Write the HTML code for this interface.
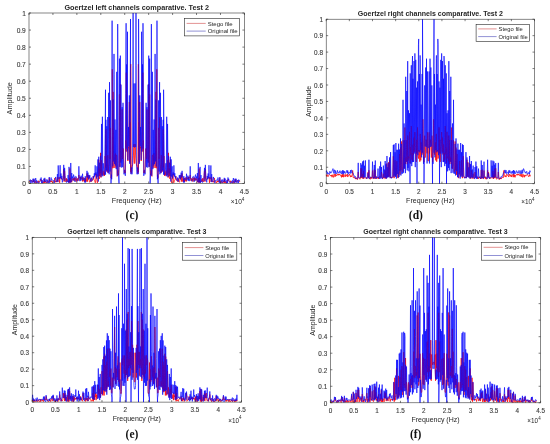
<!DOCTYPE html>
<html><head><meta charset="utf-8"><style>html,body{margin:0;padding:0;background:#fff;overflow:hidden}svg{display:block}</style></head><body>
<svg width="550" height="444" viewBox="0 0 550 444" font-family="Liberation Sans, Arial, sans-serif">
<defs><filter id="bl" x="-5%" y="-5%" width="110%" height="110%"><feGaussianBlur stdDeviation="0.45"/></filter></defs>
<g filter="url(#bl)">
<polyline fill="none" stroke-linejoin="round" stroke="#ff0000" stroke-width="0.7" stroke-opacity="1.0" points="29,180.98 29.53,181.72 29.84,181.49 30.43,180.99 30.77,180.75 31.24,180.7 31.76,180.7 32.13,180.43 32.61,182.2 32.96,181.97 33.55,180.74 33.96,179.4 34.37,182.52 34.9,183.21 35.26,182.45 35.74,181.05 36.13,183.21 36.63,182.8 37.05,182.39 37.51,181.76 38.05,182.24 38.41,180.76 38.9,182.68 39.44,181.68 39.88,181.06 40.29,180.63 40.71,180.79 41.11,179.41 41.54,181.02 42.13,181.35 42.5,182.07 42.88,183.2 43.42,182.79 43.9,181.14 44.32,183.03 44.83,179.15 45.12,182.55 45.66,181.15 46.09,182.25 46.47,183.02 47.03,182.22 47.51,182.34 47.92,181.23 48.31,182.36 48.86,181.3 49.25,178.21 49.7,180.75 50.2,181.19 50.54,182.11 51.11,180.65 51.53,181.93 52,180.8 52.34,182.88 52.9,182.07 53.24,181.75 53.67,182.03 54.26,181.57 54.72,178.08 55.17,182.1 55.54,181.32 55.96,182.33 56.36,181.55 56.93,181.2 57.39,177.14 57.86,181.8 58.21,178.68 58.65,177.87 59.18,177.15 59.65,182.77 60.13,177.01 60.44,177.49 60.95,177.69 61.47,178.79 61.84,179.02 62.32,178.76 62.66,179.62 63.23,178.36 63.73,169.06 64.16,181.68 64.62,170.84 65.03,177.65 65.4,178.56 65.95,181.97 66.3,178.16 66.86,181.24 67.17,179.26 67.76,180.91 68.09,181.75 68.58,181.98 69.02,181.12 69.53,182.58 69.89,168.46 70.38,182.49 70.76,178.09 71.26,179.96 71.74,182.26 72.13,179.92 72.67,178.53 73.08,180.08 73.59,178.42 74.03,180.45 74.44,177.87 74.97,180.75 75.37,179.56 75.86,177.52 76.22,181.64 76.71,178.73 77.1,180.16 77.69,178.36 78,180.89 78.46,179.81 78.87,175.11 79.36,177.9 79.9,177.61 80.34,179.28 80.68,177.22 81.18,178.69 81.64,178.11 82.13,177.73 82.54,181.41 83.02,177.19 83.51,180.71 83.94,180.08 84.33,181.95 84.79,178.16 85.23,181.03 85.63,178.94 86.1,181.73 86.56,180.94 87.02,173.47 87.47,181.62 87.96,174.99 88.48,178.66 88.9,176.41 89.35,181.88 89.8,182.27 90.22,181.41 90.73,178.42 91.13,180.26 91.55,181.6 91.92,180.89 92.45,179.74 92.85,180.09 93.28,176.27 93.8,179.17 94.3,180.34 94.66,180.57 95.2,182.85 95.6,182.42 95.99,173.77 96.58,177.2 96.93,179.88 97.36,182.85 97.91,180.96 98.23,175.76 98.79,159.73 99.14,178.97 99.63,168.55 100.05,175.86 100.61,152.84 100.98,177.51 101.54,160.18 101.92,174.47 102.38,174.69 102.8,173.18 103.22,170.68 103.68,175.43 104.23,172.23 104.55,175.85 105.14,156.05 105.55,167.44 105.92,129.36 106.43,169.9 106.83,171.64 107.28,167.58 107.75,155.12 108.11,172.85 108.65,166.86 109.18,162.45 109.51,117.48 110.04,158.86 110.44,127.88 110.85,177.78 111.42,178.53 111.71,176.36 112.21,159.11 112.3,69.26 112.79,168.21 113.11,91.87 113.66,159.24 114.07,167.98 114.56,159.81 114.97,155.93 115.38,153.5 115.9,167.73 116.21,154.94 116.74,155.44 117.18,176.34 117.65,175.85 118.03,170.44 118.5,175.13 119.01,163.82 119.43,94.38 119.95,166.65 120.37,84.22 120.87,161.43 121.29,157.16 121.72,155.6 122.11,109.49 122.65,158.84 123.01,148.36 123.42,149.2 124.03,168.69 124.41,173.12 124.9,170.33 125.31,173.06 125.77,140.36 126.12,151.56 126.3,72.67 126.59,121.84 127.13,147.09 127.56,159.72 127.94,160.97 128.53,146.83 128.84,148.31 129.35,101.98 129.74,162.26 130.29,122.31 130.66,171.8 130.7,64.15 131.08,173.41 131.52,172.56 131.99,165.36 132.44,165.61 132.96,162.62 133.39,155.95 133.93,144.21 134.38,163.44 134.71,163.44 135.16,144.21 135.7,155.95 136.14,162.62 136.65,165.61 137.1,165.36 137.57,172.56 138.01,173.41 138.39,64.15 138.43,171.8 138.8,122.31 139.36,162.26 139.74,101.98 140.25,148.31 140.56,146.83 141.15,160.97 141.53,159.72 141.96,147.09 142.5,121.84 142.79,72.67 142.98,151.56 143.32,140.36 143.79,173.06 144.19,170.33 144.68,173.12 145.06,168.69 145.67,149.2 146.09,148.36 146.44,158.84 146.98,109.49 147.37,155.6 147.8,157.16 148.23,161.43 148.72,84.22 149.14,166.65 149.66,94.38 150.08,163.82 150.59,175.13 151.06,170.44 151.45,175.85 151.92,176.34 152.35,155.44 152.88,154.94 153.2,167.73 153.72,153.5 154.12,155.93 154.54,159.81 155.02,167.98 155.43,159.24 155.98,91.87 156.3,168.21 156.79,69.26 156.88,159.11 157.38,176.36 157.67,178.53 158.24,177.78 158.65,127.88 159.05,158.86 159.58,117.48 159.91,162.45 160.44,166.86 160.98,172.85 161.34,155.12 161.81,167.58 162.26,171.64 162.67,169.9 163.17,129.36 163.55,167.44 163.95,156.05 164.55,175.85 164.86,172.23 165.41,175.43 165.88,170.68 166.29,173.18 166.71,174.69 167.17,174.47 167.56,160.18 168.11,177.51 168.48,152.84 169.04,175.86 169.46,168.55 169.95,178.97 170.3,159.73 170.86,175.76 171.18,180.96 171.73,182.85 172.16,179.88 172.51,177.2 173.11,173.77 173.49,182.42 173.89,182.85 174.43,180.57 174.79,180.34 175.29,179.17 175.81,176.27 176.24,180.09 176.64,179.74 177.17,180.89 177.54,181.6 177.96,180.26 178.37,178.42 178.87,181.41 179.3,182.27 179.74,181.88 180.19,176.41 180.61,178.66 181.13,174.99 181.63,181.62 182.08,173.47 182.53,180.94 183,181.73 183.46,178.94 183.87,181.03 184.3,178.16 184.77,181.95 185.15,180.08 185.58,180.71 186.08,177.19 186.55,181.41 186.96,177.73 187.46,178.11 187.91,178.69 188.41,177.22 188.76,179.28 189.19,177.61 189.74,177.9 190.22,175.11 190.64,179.81 191.09,180.89 191.4,178.36 192,180.16 192.38,178.73 192.87,181.64 193.24,177.52 193.72,179.56 194.13,180.75 194.65,177.87 195.06,180.45 195.5,178.42 196.01,180.08 196.42,178.53 196.96,179.92 197.36,182.26 197.83,179.96 198.33,178.09 198.71,182.49 199.2,168.46 199.56,182.58 200.07,181.12 200.51,181.98 201,181.75 201.33,180.91 201.92,179.26 202.23,181.24 202.79,178.16 203.14,181.97 203.69,178.56 204.06,177.65 204.47,170.84 204.93,181.68 205.37,169.06 205.86,178.36 206.43,179.62 206.78,178.76 207.26,179.02 207.62,178.79 208.15,177.69 208.65,177.49 208.96,177.01 209.44,182.77 209.92,177.15 210.44,177.87 210.88,178.68 211.23,181.8 211.7,177.14 212.17,181.2 212.73,181.55 213.13,182.33 213.55,181.32 213.92,182.1 214.38,178.08 214.83,181.57 215.42,182.03 215.85,181.75 216.19,182.07 216.75,182.88 217.09,180.8 217.56,181.93 217.98,180.65 218.56,182.11 218.9,181.19 219.39,180.75 219.84,178.21 220.23,181.3 220.79,182.36 221.18,181.23 221.58,182.34 222.07,182.22 222.62,183.02 223,182.25 223.44,181.15 223.97,182.55 224.27,179.15 224.77,183.03 225.19,181.14 225.67,182.79 226.21,183.2 226.59,182.07 226.96,181.35 227.55,181.02 227.98,179.41 228.38,180.79 228.8,180.63 229.21,181.06 229.66,181.68 230.19,182.68 230.68,180.76 231.05,182.24 231.58,181.76 232.05,182.39 232.46,182.8 232.96,183.21 233.35,181.05 233.83,182.45 234.19,183.21 234.72,182.52 235.14,179.4 235.55,180.74 236.13,181.97 236.48,182.2 236.96,180.43 237.33,180.7 237.86,180.7 238.33,180.75 238.66,180.99 239.26,181.49 239.56,181.72 240.09,180.98"/>
<polyline fill="none" stroke-linejoin="round" stroke="#0000ff" stroke-width="0.7" stroke-opacity="0.95" points="29,180.18 29.53,180.65 29.84,179.99 30.43,179.64 30.77,183.11 31.24,180.15 31.76,181.83 32.13,182.84 32.61,180.92 32.96,178.74 33.55,182.19 33.96,178.61 34.37,182.82 34.9,180.39 35.26,180.73 35.74,178.06 36.13,183.06 36.63,180.29 37.05,180.6 37.51,182.6 38.05,181.73 38.41,183.12 38.9,182.88 39.44,182.37 39.88,181.62 40.29,178.86 40.71,179.85 41.11,177.53 41.54,183.11 42.13,180.07 42.5,182.96 42.88,182.84 43.42,179.55 43.9,178.58 44.32,181.91 44.83,177.83 45.12,181.73 45.66,181.91 46.09,179.88 46.47,179.56 47.03,182.88 47.51,179.69 47.92,180.84 48.31,182.75 48.86,182.76 49.25,177.01 49.7,182.84 50.2,180.8 50.54,180.86 51.11,177.49 51.53,180.14 52,180.22 52.34,179.73 52.9,180.66 53.24,180.57 53.67,180.42 54.26,183.1 54.72,180.71 55.17,179.54 55.54,176.95 55.96,179.61 56.36,181.87 56.93,180.33 57.39,174.1 57.86,182.13 58.21,165.43 58.65,178.98 59.18,178.47 59.65,178.93 60.13,165.21 60.44,178.32 60.95,173.46 61.47,179.25 61.84,175.92 62.32,182.42 62.66,179.82 63.23,178.44 63.73,164.89 64.16,180.89 64.62,167.85 65.03,175.39 65.4,177.74 65.95,178.25 66.3,182.35 66.86,182.45 67.17,181.19 67.76,181.77 68.09,175.1 68.58,182.84 69.02,166.89 69.53,182.4 69.89,177.81 70.38,182.49 70.76,162.97 71.26,182.23 71.74,173.04 72.13,178.32 72.67,176.51 73.08,180.75 73.59,174.59 74.03,176.36 74.44,176.98 74.97,181.86 75.37,176.5 75.86,176.31 76.22,176.54 76.71,177.92 77.1,181.31 77.69,180.94 78,178.97 78.46,178.74 78.87,166.3 79.36,178.59 79.9,181.18 80.34,176.72 80.68,180.67 81.18,175.66 81.64,178.8 82.13,180.47 82.54,173.76 83.02,179.03 83.51,179.89 83.94,177.95 84.33,178.93 84.79,182.57 85.23,176.29 85.63,182.45 86.1,176.33 86.56,176.45 87.02,170.83 87.47,177.62 87.96,172.59 88.48,179.54 88.9,174.9 89.35,178.48 89.8,175.11 90.22,178.59 90.73,181.74 91.13,180.93 91.55,177.6 91.92,180.75 92.45,179.26 92.85,178.45 93.28,176.21 93.8,178.31 94.3,173.24 94.66,176.63 95.2,165.33 95.6,175.21 95.99,172.41 96.58,178.49 96.93,166.3 97.36,176.66 97.91,159.38 98.23,181.55 98.79,156.74 99.14,176.05 99.63,162.65 100.05,173.3 100.61,155.82 100.98,177.08 101.54,123.95 101.92,175.43 102.38,116.74 102.8,176.28 103.22,163.25 103.68,169.98 104.23,171.94 104.55,174.9 105.14,133.29 105.5,89.72 105.55,174.65 105.92,119.77 106.43,170.42 106.83,126.2 107.28,171.68 107.75,117.02 108.11,173.16 108.65,92.79 109.18,174.29 109.5,91.43 109.51,82.14 110.04,171.56 110.44,100.37 110.85,175.62 111,183.5 111.42,174.58 111.71,179.28 112.1,20.67 112.21,76.02 112.79,166.43 113.11,99.49 113.66,161.5 114,53.92 114.07,74.18 114.56,163.93 114.97,119.44 115.38,165.46 115.9,129.84 116.21,169.12 116.74,71.84 117.18,175.72 117.65,175.25 117.7,24.08 118.03,172.78 118.5,173.81 119,183.5 119.01,160.48 119.43,58.62 119.95,166.95 120.37,55.64 120.87,162.74 121,84.61 121.29,167.6 121.72,159.08 122.11,107.16 122.65,167.21 123.01,102.79 123.42,158.11 124.03,174.33 124.41,170.06 124.9,170.44 125.31,175.82 125.77,93.47 126.1,23.23 126.12,148.66 126.59,64.36 127.13,151.46 127.5,31.75 127.56,148.51 127.94,159.97 128.53,126.93 128.84,146.35 129.35,95.38 129.74,163.81 130.29,68.32 130.5,18.97 130.66,173.23 131.08,174.18 131.52,167.46 131.99,174.25 132.44,169.66 132.96,65.37 133.1,13 133.39,147.04 133.93,83.44 134.38,147.39 134.71,147.39 135.16,83.44 135.7,147.04 135.99,13 136.14,65.37 136.65,169.66 137.1,174.25 137.57,167.46 138.01,174.18 138.43,173.23 138.59,18.97 138.8,68.32 139.36,163.81 139.74,95.38 140.25,146.35 140.56,126.93 141.15,159.97 141.53,148.51 141.59,31.75 141.96,151.46 142.5,64.36 142.98,148.66 142.99,23.23 143.32,93.47 143.79,175.82 144.19,170.44 144.68,170.06 145.06,174.33 145.67,158.11 146.09,102.79 146.44,167.21 146.98,107.16 147.37,159.08 147.8,167.6 148.09,84.61 148.23,162.74 148.72,55.64 149.14,166.95 149.66,58.62 150.08,160.48 150.09,183.5 150.59,173.81 151.06,172.78 151.39,24.08 151.45,175.25 151.92,175.72 152.35,71.84 152.88,169.12 153.2,129.84 153.72,165.46 154.12,119.44 154.54,163.93 155.02,74.18 155.09,53.92 155.43,161.5 155.98,99.49 156.3,166.43 156.88,76.02 156.99,20.67 157.38,179.28 157.67,174.58 158.09,183.5 158.24,175.62 158.65,100.37 159.05,171.56 159.58,82.14 159.59,91.43 159.91,174.29 160.44,92.79 160.98,173.16 161.34,117.02 161.81,171.68 162.26,126.2 162.67,170.42 163.17,119.77 163.55,174.65 163.59,89.72 163.95,133.29 164.55,174.9 164.86,171.94 165.41,169.98 165.88,163.25 166.29,176.28 166.71,116.74 167.17,175.43 167.56,123.95 168.11,177.08 168.48,155.82 169.04,173.3 169.46,162.65 169.95,176.05 170.3,156.74 170.86,181.55 171.18,159.38 171.73,176.66 172.16,166.3 172.51,178.49 173.11,172.41 173.49,175.21 173.89,165.33 174.43,176.63 174.79,173.24 175.29,178.31 175.81,176.21 176.24,178.45 176.64,179.26 177.17,180.75 177.54,177.6 177.96,180.93 178.37,181.74 178.87,178.59 179.3,175.11 179.74,178.48 180.19,174.9 180.61,179.54 181.13,172.59 181.63,177.62 182.08,170.83 182.53,176.45 183,176.33 183.46,182.45 183.87,176.29 184.3,182.57 184.77,178.93 185.15,177.95 185.58,179.89 186.08,179.03 186.55,173.76 186.96,180.47 187.46,178.8 187.91,175.66 188.41,180.67 188.76,176.72 189.19,181.18 189.74,178.59 190.22,166.3 190.64,178.74 191.09,178.97 191.4,180.94 192,181.31 192.38,177.92 192.87,176.54 193.24,176.31 193.72,176.5 194.13,181.86 194.65,176.98 195.06,176.36 195.5,174.59 196.01,180.75 196.42,176.51 196.96,178.32 197.36,173.04 197.83,182.23 198.33,162.97 198.71,182.49 199.2,177.81 199.56,182.4 200.07,166.89 200.51,182.84 201,175.1 201.33,181.77 201.92,181.19 202.23,182.45 202.79,182.35 203.14,178.25 203.69,177.74 204.06,175.39 204.47,167.85 204.93,180.89 205.37,164.89 205.86,178.44 206.43,179.82 206.78,182.42 207.26,175.92 207.62,179.25 208.15,173.46 208.65,178.32 208.96,165.21 209.44,178.93 209.92,178.47 210.44,178.98 210.88,165.43 211.23,182.13 211.7,174.1 212.17,180.33 212.73,181.87 213.13,179.61 213.55,176.95 213.92,179.54 214.38,180.71 214.83,183.1 215.42,180.42 215.85,180.57 216.19,180.66 216.75,179.73 217.09,180.22 217.56,180.14 217.98,177.49 218.56,180.86 218.9,180.8 219.39,182.84 219.84,177.01 220.23,182.76 220.79,182.75 221.18,180.84 221.58,179.69 222.07,182.88 222.62,179.56 223,179.88 223.44,181.91 223.97,181.73 224.27,177.83 224.77,181.91 225.19,178.58 225.67,179.55 226.21,182.84 226.59,182.96 226.96,180.07 227.55,183.11 227.98,177.53 228.38,179.85 228.8,178.86 229.21,181.62 229.66,182.37 230.19,182.88 230.68,183.12 231.05,181.73 231.58,182.6 232.05,180.6 232.46,180.29 232.96,183.06 233.35,178.06 233.83,180.73 234.19,180.39 234.72,182.82 235.14,178.61 235.55,182.19 236.13,178.74 236.48,180.92 236.96,182.84 237.33,181.83 237.86,180.15 238.33,183.11 238.66,179.64 239.26,179.99 239.56,180.65 240.09,180.18"/>
<polyline fill="none" stroke-linejoin="round" stroke="#ff0000" stroke-width="0.5" stroke-opacity="0.2" points="29,180.98 29.53,181.72 29.84,181.49 30.43,180.99 30.77,180.75 31.24,180.7 31.76,180.7 32.13,180.43 32.61,182.2 32.96,181.97 33.55,180.74 33.96,179.4 34.37,182.52 34.9,183.21 35.26,182.45 35.74,181.05 36.13,183.21 36.63,182.8 37.05,182.39 37.51,181.76 38.05,182.24 38.41,180.76 38.9,182.68 39.44,181.68 39.88,181.06 40.29,180.63 40.71,180.79 41.11,179.41 41.54,181.02 42.13,181.35 42.5,182.07 42.88,183.2 43.42,182.79 43.9,181.14 44.32,183.03 44.83,179.15 45.12,182.55 45.66,181.15 46.09,182.25 46.47,183.02 47.03,182.22 47.51,182.34 47.92,181.23 48.31,182.36 48.86,181.3 49.25,178.21 49.7,180.75 50.2,181.19 50.54,182.11 51.11,180.65 51.53,181.93 52,180.8 52.34,182.88 52.9,182.07 53.24,181.75 53.67,182.03 54.26,181.57 54.72,178.08 55.17,182.1 55.54,181.32 55.96,182.33 56.36,181.55 56.93,181.2 57.39,177.14 57.86,181.8 58.21,178.68 58.65,177.87 59.18,177.15 59.65,182.77 60.13,177.01 60.44,177.49 60.95,177.69 61.47,178.79 61.84,179.02 62.32,178.76 62.66,179.62 63.23,178.36 63.73,169.06 64.16,181.68 64.62,170.84 65.03,177.65 65.4,178.56 65.95,181.97 66.3,178.16 66.86,181.24 67.17,179.26 67.76,180.91 68.09,181.75 68.58,181.98 69.02,181.12 69.53,182.58 69.89,168.46 70.38,182.49 70.76,178.09 71.26,179.96 71.74,182.26 72.13,179.92 72.67,178.53 73.08,180.08 73.59,178.42 74.03,180.45 74.44,177.87 74.97,180.75 75.37,179.56 75.86,177.52 76.22,181.64 76.71,178.73 77.1,180.16 77.69,178.36 78,180.89 78.46,179.81 78.87,175.11 79.36,177.9 79.9,177.61 80.34,179.28 80.68,177.22 81.18,178.69 81.64,178.11 82.13,177.73 82.54,181.41 83.02,177.19 83.51,180.71 83.94,180.08 84.33,181.95 84.79,178.16 85.23,181.03 85.63,178.94 86.1,181.73 86.56,180.94 87.02,173.47 87.47,181.62 87.96,174.99 88.48,178.66 88.9,176.41 89.35,181.88 89.8,182.27 90.22,181.41 90.73,178.42 91.13,180.26 91.55,181.6 91.92,180.89 92.45,179.74 92.85,180.09 93.28,176.27 93.8,179.17 94.3,180.34 94.66,180.57 95.2,182.85 95.6,182.42 95.99,173.77 96.58,177.2 96.93,179.88 97.36,182.85 97.91,180.96 98.23,175.76 98.79,159.73 99.14,178.97 99.63,168.55 100.05,175.86 100.61,152.84 100.98,177.51 101.54,160.18 101.92,174.47 102.38,174.69 102.8,173.18 103.22,170.68 103.68,175.43 104.23,172.23 104.55,175.85 105.14,156.05 105.55,167.44 105.92,129.36 106.43,169.9 106.83,171.64 107.28,167.58 107.75,155.12 108.11,172.85 108.65,166.86 109.18,162.45 109.51,117.48 110.04,158.86 110.44,127.88 110.85,177.78 111.42,178.53 111.71,176.36 112.21,159.11 112.3,69.26 112.79,168.21 113.11,91.87 113.66,159.24 114.07,167.98 114.56,159.81 114.97,155.93 115.38,153.5 115.9,167.73 116.21,154.94 116.74,155.44 117.18,176.34 117.65,175.85 118.03,170.44 118.5,175.13 119.01,163.82 119.43,94.38 119.95,166.65 120.37,84.22 120.87,161.43 121.29,157.16 121.72,155.6 122.11,109.49 122.65,158.84 123.01,148.36 123.42,149.2 124.03,168.69 124.41,173.12 124.9,170.33 125.31,173.06 125.77,140.36 126.12,151.56 126.3,72.67 126.59,121.84 127.13,147.09 127.56,159.72 127.94,160.97 128.53,146.83 128.84,148.31 129.35,101.98 129.74,162.26 130.29,122.31 130.66,171.8 130.7,64.15 131.08,173.41 131.52,172.56 131.99,165.36 132.44,165.61 132.96,162.62 133.39,155.95 133.93,144.21 134.38,163.44 134.71,163.44 135.16,144.21 135.7,155.95 136.14,162.62 136.65,165.61 137.1,165.36 137.57,172.56 138.01,173.41 138.39,64.15 138.43,171.8 138.8,122.31 139.36,162.26 139.74,101.98 140.25,148.31 140.56,146.83 141.15,160.97 141.53,159.72 141.96,147.09 142.5,121.84 142.79,72.67 142.98,151.56 143.32,140.36 143.79,173.06 144.19,170.33 144.68,173.12 145.06,168.69 145.67,149.2 146.09,148.36 146.44,158.84 146.98,109.49 147.37,155.6 147.8,157.16 148.23,161.43 148.72,84.22 149.14,166.65 149.66,94.38 150.08,163.82 150.59,175.13 151.06,170.44 151.45,175.85 151.92,176.34 152.35,155.44 152.88,154.94 153.2,167.73 153.72,153.5 154.12,155.93 154.54,159.81 155.02,167.98 155.43,159.24 155.98,91.87 156.3,168.21 156.79,69.26 156.88,159.11 157.38,176.36 157.67,178.53 158.24,177.78 158.65,127.88 159.05,158.86 159.58,117.48 159.91,162.45 160.44,166.86 160.98,172.85 161.34,155.12 161.81,167.58 162.26,171.64 162.67,169.9 163.17,129.36 163.55,167.44 163.95,156.05 164.55,175.85 164.86,172.23 165.41,175.43 165.88,170.68 166.29,173.18 166.71,174.69 167.17,174.47 167.56,160.18 168.11,177.51 168.48,152.84 169.04,175.86 169.46,168.55 169.95,178.97 170.3,159.73 170.86,175.76 171.18,180.96 171.73,182.85 172.16,179.88 172.51,177.2 173.11,173.77 173.49,182.42 173.89,182.85 174.43,180.57 174.79,180.34 175.29,179.17 175.81,176.27 176.24,180.09 176.64,179.74 177.17,180.89 177.54,181.6 177.96,180.26 178.37,178.42 178.87,181.41 179.3,182.27 179.74,181.88 180.19,176.41 180.61,178.66 181.13,174.99 181.63,181.62 182.08,173.47 182.53,180.94 183,181.73 183.46,178.94 183.87,181.03 184.3,178.16 184.77,181.95 185.15,180.08 185.58,180.71 186.08,177.19 186.55,181.41 186.96,177.73 187.46,178.11 187.91,178.69 188.41,177.22 188.76,179.28 189.19,177.61 189.74,177.9 190.22,175.11 190.64,179.81 191.09,180.89 191.4,178.36 192,180.16 192.38,178.73 192.87,181.64 193.24,177.52 193.72,179.56 194.13,180.75 194.65,177.87 195.06,180.45 195.5,178.42 196.01,180.08 196.42,178.53 196.96,179.92 197.36,182.26 197.83,179.96 198.33,178.09 198.71,182.49 199.2,168.46 199.56,182.58 200.07,181.12 200.51,181.98 201,181.75 201.33,180.91 201.92,179.26 202.23,181.24 202.79,178.16 203.14,181.97 203.69,178.56 204.06,177.65 204.47,170.84 204.93,181.68 205.37,169.06 205.86,178.36 206.43,179.62 206.78,178.76 207.26,179.02 207.62,178.79 208.15,177.69 208.65,177.49 208.96,177.01 209.44,182.77 209.92,177.15 210.44,177.87 210.88,178.68 211.23,181.8 211.7,177.14 212.17,181.2 212.73,181.55 213.13,182.33 213.55,181.32 213.92,182.1 214.38,178.08 214.83,181.57 215.42,182.03 215.85,181.75 216.19,182.07 216.75,182.88 217.09,180.8 217.56,181.93 217.98,180.65 218.56,182.11 218.9,181.19 219.39,180.75 219.84,178.21 220.23,181.3 220.79,182.36 221.18,181.23 221.58,182.34 222.07,182.22 222.62,183.02 223,182.25 223.44,181.15 223.97,182.55 224.27,179.15 224.77,183.03 225.19,181.14 225.67,182.79 226.21,183.2 226.59,182.07 226.96,181.35 227.55,181.02 227.98,179.41 228.38,180.79 228.8,180.63 229.21,181.06 229.66,181.68 230.19,182.68 230.68,180.76 231.05,182.24 231.58,181.76 232.05,182.39 232.46,182.8 232.96,183.21 233.35,181.05 233.83,182.45 234.19,183.21 234.72,182.52 235.14,179.4 235.55,180.74 236.13,181.97 236.48,182.2 236.96,180.43 237.33,180.7 237.86,180.7 238.33,180.75 238.66,180.99 239.26,181.49 239.56,181.72 240.09,180.98"/>
</g>
<rect x="29" y="13" width="215.4" height="170.5" fill="none" stroke="#262626" stroke-width="0.55"/>
<path d="M29 183.5v-2.0 M29 13v2.0 M52.93 183.5v-2.0 M52.93 13v2.0 M76.87 183.5v-2.0 M76.87 13v2.0 M100.8 183.5v-2.0 M100.8 13v2.0 M124.73 183.5v-2.0 M124.73 13v2.0 M148.67 183.5v-2.0 M148.67 13v2.0 M172.6 183.5v-2.0 M172.6 13v2.0 M196.53 183.5v-2.0 M196.53 13v2.0 M220.47 183.5v-2.0 M220.47 13v2.0 M244.4 183.5v-2.0 M244.4 13v2.0 M29 183.5h2.0 M244.4 183.5h-2.0 M29 166.45h2.0 M244.4 166.45h-2.0 M29 149.4h2.0 M244.4 149.4h-2.0 M29 132.35h2.0 M244.4 132.35h-2.0 M29 115.3h2.0 M244.4 115.3h-2.0 M29 98.25h2.0 M244.4 98.25h-2.0 M29 81.2h2.0 M244.4 81.2h-2.0 M29 64.15h2.0 M244.4 64.15h-2.0 M29 47.1h2.0 M244.4 47.1h-2.0 M29 30.05h2.0 M244.4 30.05h-2.0 M29 13h2.0 M244.4 13h-2.0" stroke="#262626" stroke-width="0.6" fill="none"/>
<text x="29" y="193.55" font-size="6.6" text-anchor="middle" fill="#3c3c3c" stroke="#3c3c3c" stroke-width="0.12">0</text>
<text x="52.93" y="193.55" font-size="6.6" text-anchor="middle" fill="#3c3c3c" stroke="#3c3c3c" stroke-width="0.12">0.5</text>
<text x="76.87" y="193.55" font-size="6.6" text-anchor="middle" fill="#3c3c3c" stroke="#3c3c3c" stroke-width="0.12">1</text>
<text x="100.8" y="193.55" font-size="6.6" text-anchor="middle" fill="#3c3c3c" stroke="#3c3c3c" stroke-width="0.12">1.5</text>
<text x="124.73" y="193.55" font-size="6.6" text-anchor="middle" fill="#3c3c3c" stroke="#3c3c3c" stroke-width="0.12">2</text>
<text x="148.67" y="193.55" font-size="6.6" text-anchor="middle" fill="#3c3c3c" stroke="#3c3c3c" stroke-width="0.12">2.5</text>
<text x="172.6" y="193.55" font-size="6.6" text-anchor="middle" fill="#3c3c3c" stroke="#3c3c3c" stroke-width="0.12">3</text>
<text x="196.53" y="193.55" font-size="6.6" text-anchor="middle" fill="#3c3c3c" stroke="#3c3c3c" stroke-width="0.12">3.5</text>
<text x="220.47" y="193.55" font-size="6.6" text-anchor="middle" fill="#3c3c3c" stroke="#3c3c3c" stroke-width="0.12">4</text>
<text x="244.4" y="193.55" font-size="6.6" text-anchor="middle" fill="#3c3c3c" stroke="#3c3c3c" stroke-width="0.12">4.5</text>
<text x="25.8" y="186.38" font-size="6.6" text-anchor="end" fill="#3c3c3c" stroke="#3c3c3c" stroke-width="0.12">0</text>
<text x="25.8" y="169.33" font-size="6.6" text-anchor="end" fill="#3c3c3c" stroke="#3c3c3c" stroke-width="0.12">0.1</text>
<text x="25.8" y="152.28" font-size="6.6" text-anchor="end" fill="#3c3c3c" stroke="#3c3c3c" stroke-width="0.12">0.2</text>
<text x="25.8" y="135.23" font-size="6.6" text-anchor="end" fill="#3c3c3c" stroke="#3c3c3c" stroke-width="0.12">0.3</text>
<text x="25.8" y="118.18" font-size="6.6" text-anchor="end" fill="#3c3c3c" stroke="#3c3c3c" stroke-width="0.12">0.4</text>
<text x="25.8" y="101.13" font-size="6.6" text-anchor="end" fill="#3c3c3c" stroke="#3c3c3c" stroke-width="0.12">0.5</text>
<text x="25.8" y="84.08" font-size="6.6" text-anchor="end" fill="#3c3c3c" stroke="#3c3c3c" stroke-width="0.12">0.6</text>
<text x="25.8" y="67.03" font-size="6.6" text-anchor="end" fill="#3c3c3c" stroke="#3c3c3c" stroke-width="0.12">0.7</text>
<text x="25.8" y="49.98" font-size="6.6" text-anchor="end" fill="#3c3c3c" stroke="#3c3c3c" stroke-width="0.12">0.8</text>
<text x="25.8" y="32.93" font-size="6.6" text-anchor="end" fill="#3c3c3c" stroke="#3c3c3c" stroke-width="0.12">0.9</text>
<text x="25.8" y="15.88" font-size="6.6" text-anchor="end" fill="#3c3c3c" stroke="#3c3c3c" stroke-width="0.12">1</text>
<text x="244.4" y="204" font-size="6.6" text-anchor="end" fill="#262626">&#215;10<tspan font-size="4.62" dy="-3.3">4</tspan></text>
<text x="136.7" y="202.5" font-size="7.26" text-anchor="middle" fill="#262626">Frequency (Hz)</text>
<text transform="translate(12.3 98.25) rotate(-90)" font-size="7.26" text-anchor="middle" fill="#262626">Amplitude</text>
<text x="136.7" y="9.8" font-size="7.26" font-weight="bold" text-anchor="middle" fill="#262626">Goertzel left channels comparative. Test 2</text>
<rect x="184.3" y="18.5" width="55.2" height="17.4" fill="#fff" stroke="#262626" stroke-width="0.6"/>
<path d="M186.6 23.4H205.7" stroke="#d04848" stroke-width="0.8" stroke-opacity="0.75"/>
<text x="207.7" y="25.56" font-size="6.01" fill="#262626">Stego file</text>
<path d="M186.6 31.1H205.7" stroke="#4848b8" stroke-width="0.8" stroke-opacity="0.75"/>
<text x="207.7" y="33.26" font-size="6.01" fill="#262626">Original file</text>
<text x="132" y="218.9" font-size="11.5" font-weight="bold" text-anchor="middle" font-family="Liberation Serif, serif" fill="#111">(c)</text>
<g filter="url(#bl)">
<polyline fill="none" stroke-linejoin="round" stroke="#ff0000" stroke-width="0.7" stroke-opacity="1.0" points="326.2,174.78 326.61,176.39 327.16,174.51 327.48,175.87 328.02,176.67 328.49,175.54 328.84,175.21 329.27,174.41 329.76,175.02 330.28,175.65 330.71,175.34 331.09,176.16 331.59,174.88 332.08,177.22 332.49,175.05 332.97,174.57 333.48,177.24 333.88,177.22 334.28,174.21 334.69,174.2 335.17,176.76 335.65,174.11 336.17,175.94 336.6,175.54 336.97,175.71 337.53,173.78 337.89,174.24 338.38,175.21 338.73,174.07 339.18,175.17 339.65,174.1 340.22,174.76 340.63,175.7 341.11,175.35 341.53,177.36 341.93,174.66 342.4,176.89 342.87,174.03 343.37,177.23 343.74,174.87 344.27,174.65 344.67,175.46 345.16,177.04 345.55,174.5 346.03,176.24 346.42,176.02 346.9,174.92 347.3,173.93 347.73,177.04 348.17,175.83 348.74,174.99 349.14,175.38 349.67,174.1 350.11,175.24 350.48,177.11 351.04,175.65 351.42,176.87 351.9,175.76 352.28,174.4 352.7,170.49 353.14,177.58 353.59,177.69 354.12,177.01 354.48,177.68 354.91,178.03 355.51,179.12 355.83,177.77 356.34,178.67 356.8,177.79 357.27,179.64 357.7,178.67 358.23,172 358.65,177.76 359.06,178.07 359.52,178.45 359.95,179.25 360.48,178.03 360.8,168.3 361.33,177.78 361.76,168.55 362.12,178.17 362.61,173.87 363.18,179 363.6,170.89 363.91,177.57 364.41,177.97 364.81,177.6 365.41,178.28 365.73,177.39 366.17,177.74 366.79,178.81 367.14,177.96 367.57,177.77 367.97,172.23 368.48,177.05 368.93,170.29 369.4,178.95 369.76,178.75 370.24,179.28 370.7,176.93 371.19,178.82 371.61,177.15 372.12,177.93 372.51,170.56 373.07,178.65 373.53,178.52 373.82,177.22 374.3,169.66 374.81,178.77 375.3,170.16 375.62,177.78 376.09,178.92 376.59,176.54 377.08,177.3 377.57,177.89 378.02,178.64 378.45,177.19 378.77,178.75 379.39,176.49 379.77,176.97 380.13,177.06 380.61,176.88 381.12,176.61 381.53,172.04 381.99,176.7 382.5,178.58 382.96,176.96 383.36,173.67 383.85,178.26 384.23,178.52 384.79,176.28 385.17,170.33 385.68,178.47 385.97,177.13 386.57,178.24 386.96,163.37 387.44,176.11 387.79,176.84 388.31,176.55 388.71,162.16 389.13,176.46 389.56,159.71 390.17,177.64 390.58,177.19 390.95,177.89 391.41,176.88 391.89,178.03 392.41,177.26 392.73,176.06 393.33,156.19 393.78,176.75 394.1,178.17 394.63,176.07 395.02,160.14 395.54,175.41 395.88,175.46 396.39,174.92 396.87,161.04 397.32,174.55 397.78,177.97 398.27,177.97 398.6,172.85 399.04,173.08 399.53,154.05 400.01,174.77 400.53,147.64 400.94,169.9 401.39,141.43 401.89,168.14 402.21,171.83 402.66,166.57 403.14,140.16 403.56,163.92 404.08,168.76 404.58,161.53 404.89,127.52 405.4,163.94 405.88,157.54 406.3,161.5 406.82,140.09 407.24,164.21 407.72,135.53 408.03,160.76 408.5,156.65 408.92,158.3 409.51,131.87 409.98,163.21 410.26,147.43 410.85,154.36 411.29,126.13 411.77,159.57 412.11,153.1 412.64,161.25 413,144.49 413.42,154.69 413.99,137.65 414.32,151.66 414.89,132.05 415.26,145.42 415.75,146.98 416.27,161.89 416.6,139.73 417.09,153.19 417.52,127.38 417.94,156.19 418.45,158.59 418.84,150.02 419.4,152.02 419.82,161.71 420.21,133.87 420.79,160.36 421.12,142.24 421.63,150.87 422.09,154.55 422.46,150.87 422.86,119.2 423.47,158.44 423.93,162.17 424.24,140.7 424.69,135.73 425.19,157.58 425.67,146.48 426.19,139.64 426.63,144.05 427.09,153.42 427.4,132.32 427.92,160.94 428.62,160.94 429.13,132.32 429.45,153.42 429.9,144.05 430.35,139.64 430.87,146.48 431.35,157.58 431.85,135.73 432.29,140.7 432.6,162.17 433.06,158.44 433.67,119.2 434.08,150.87 434.44,154.55 434.9,150.87 435.41,142.24 435.75,160.36 436.32,133.87 436.71,161.71 437.13,152.02 437.69,150.02 438.09,158.59 438.59,156.19 439.01,127.38 439.44,153.19 439.93,139.73 440.26,161.89 440.79,146.98 441.27,145.42 441.65,132.05 442.22,151.66 442.54,137.65 443.11,154.69 443.53,144.49 443.9,161.25 444.43,153.1 444.76,159.57 445.24,126.13 445.68,154.36 446.27,147.43 446.55,163.21 447.02,131.87 447.61,158.3 448.04,156.65 448.5,160.76 448.82,135.53 449.29,164.21 449.71,140.09 450.24,161.5 450.65,157.54 451.13,163.94 451.65,127.52 451.95,161.53 452.46,168.76 452.97,163.92 453.4,140.16 453.88,166.57 454.33,171.83 454.65,168.14 455.14,141.43 455.6,169.9 456,147.64 456.52,174.77 457,154.05 457.5,173.08 457.93,172.85 458.26,177.97 458.75,177.97 459.21,174.55 459.67,161.04 460.14,174.92 460.66,175.46 461,175.41 461.51,160.14 461.91,176.07 462.43,178.17 462.75,176.75 463.2,156.19 463.8,176.06 464.13,177.26 464.64,178.03 465.13,176.88 465.59,177.89 465.95,177.19 466.36,177.64 466.97,159.71 467.41,176.46 467.82,162.16 468.23,176.55 468.74,176.84 469.1,176.11 469.57,163.37 469.97,178.24 470.57,177.13 470.85,178.47 471.37,170.33 471.75,176.28 472.3,178.52 472.68,178.26 473.18,173.67 473.58,176.96 474.03,178.58 474.54,176.7 475,172.04 475.41,176.61 475.93,176.88 476.41,177.06 476.76,176.97 477.15,176.49 477.76,178.75 478.08,177.19 478.52,178.64 478.96,177.89 479.45,177.3 479.94,176.54 480.44,178.92 480.91,177.78 481.24,170.16 481.72,178.77 482.24,169.66 482.71,177.22 483,178.52 483.46,178.65 484.02,170.56 484.41,177.93 484.92,177.15 485.34,178.82 485.84,176.93 486.3,179.28 486.77,178.75 487.13,178.95 487.61,170.29 488.05,177.05 488.57,172.23 488.97,177.77 489.39,177.96 489.75,178.81 490.36,177.74 490.8,177.39 491.13,178.28 491.72,177.6 492.12,177.97 492.62,177.57 492.93,170.89 493.36,179 493.92,173.87 494.42,178.17 494.77,168.55 495.2,177.78 495.73,168.3 496.05,178.03 496.58,179.25 497.01,178.45 497.47,178.07 497.89,177.76 498.31,172 498.83,178.67 499.26,179.64 499.74,177.79 500.19,178.67 500.71,177.77 501.02,179.12 501.62,178.03 502.05,177.68 502.42,177.01 502.94,177.69 503.39,177.58 503.84,170.49 504.25,174.4 504.64,175.76 505.12,176.87 505.5,175.65 506.05,177.11 506.42,175.24 506.86,174.1 507.39,175.38 507.8,174.99 508.37,175.83 508.81,177.04 509.24,173.93 509.63,174.92 510.11,176.02 510.5,176.24 510.98,174.5 511.37,177.04 511.86,175.46 512.26,174.65 512.8,174.87 513.17,177.23 513.67,174.03 514.13,176.89 514.6,174.66 515.01,177.36 515.42,175.35 515.9,175.7 516.31,174.76 516.89,174.1 517.36,175.17 517.8,174.07 518.15,175.21 518.64,174.24 519.01,173.78 519.57,175.71 519.93,175.54 520.36,175.94 520.88,174.11 521.36,176.76 521.84,174.2 522.25,174.21 522.65,177.22 523.05,177.24 523.56,174.57 524.05,175.05 524.45,177.22 524.95,174.88 525.45,176.16 525.82,175.34 526.26,175.65 526.77,175.02 527.26,174.41 527.69,175.21 528.04,175.54 528.52,176.67 529.06,175.87 529.38,174.51 529.92,176.39 530.33,174.78"/>
<polyline fill="none" stroke-linejoin="round" stroke="#0000ff" stroke-width="0.7" stroke-opacity="0.95" points="326.2,172.23 326.61,170.62 327.16,174.16 327.48,172.19 328.02,172.65 328.49,174.06 328.84,173.74 329.27,174.29 329.76,171.31 330.28,171.99 330.71,173.28 331.09,171.83 331.59,172.36 332.08,171.15 332.49,169.75 332.97,168.61 333.48,171.25 333.88,173.44 334.28,169.74 334.69,171.4 335.17,173.77 335.65,170.49 336.17,173.77 336.6,173.68 336.97,173.03 337.53,170.39 337.89,172.27 338.38,173.2 338.73,172.47 339.18,173.25 339.65,170.88 340.22,170.75 340.63,173.16 341.11,172.99 341.53,173.72 341.93,170.89 342.4,173.74 342.87,170 343.37,174.38 343.74,170.83 344.27,172.82 344.67,171.35 345.16,173.58 345.55,173.09 346.03,173.06 346.42,170.68 346.9,170.46 347.3,172.94 347.73,170.42 348.17,174.46 348.74,172.08 349.14,172.27 349.67,172.51 350.11,173.61 350.48,170.23 351.04,173.22 351.42,169.98 351.9,170.16 352.28,172.97 352.7,172.54 353.14,172.91 353.59,175.08 354.12,175.21 354.48,177.2 354.91,176.9 355.51,176.47 355.83,178.62 356.34,177.9 356.8,178.48 357.27,178.67 357.7,178.78 358.23,162.87 358.65,177.31 359.06,178.11 359.52,178.08 359.95,177.21 360.48,177.53 360.8,163.1 361.33,176.71 361.76,164.65 362.12,177.39 362.61,161.44 363.18,178.29 363.6,160.61 363.91,177.23 364.41,165.73 364.81,177.46 365.41,160.41 365.73,176.62 366.17,177.08 366.79,178.76 367.14,176.98 367.57,176.72 367.97,173.15 368.48,178.21 368.93,159.73 369.4,178.46 369.76,178.95 370.24,177.87 370.7,176.89 371.19,177.1 371.61,177.38 372.12,176.9 372.51,161.64 373.07,178.52 373.53,177.01 373.82,178.14 374.3,164.97 374.81,178.25 375.3,160.5 375.62,177.2 376.09,178.82 376.59,176.84 377.08,178.03 377.57,177.07 378.02,168.58 378.45,177.68 378.77,177.34 379.39,178.76 379.77,166.25 380.13,178.72 380.61,161.58 381.12,178.15 381.53,167.07 381.99,178.76 382.5,178.62 382.96,177.07 383.36,165.6 383.85,177.92 384.23,169.48 384.79,177.3 385.17,161.02 385.68,178.29 385.97,164.18 386.57,178.57 386.96,155.99 387.44,177.49 387.79,167.3 388.31,177.29 388.71,162.92 389.13,176.67 389.56,157.38 390.17,178.23 390.58,152.12 390.95,176.41 391.41,178.25 391.89,178.16 392.41,176.48 392.73,175.99 393.33,145 393.78,177.14 394.1,144.34 394.63,175.68 395.02,152.2 395.54,176.9 395.88,143 396.39,178.61 396.87,149.76 397.32,174.23 397.78,149.8 398.27,177.62 398.6,143.66 399.04,176.96 399.53,149.49 400.01,171.2 400.53,138.43 400.94,175.49 401.39,143.9 401.89,173.65 402.21,172.33 402.66,173.5 403,99.8 403.14,123.06 403.56,172.74 404.08,123.43 404.58,168.5 404.89,140.1 405.4,173.13 405.7,76.77 405.88,118.33 406.3,161.87 406.82,91.01 407.24,170.43 407.7,61.15 407.72,81.97 408.03,167.95 408.5,110.34 408.92,171.32 409.51,113.24 409.98,161.06 410,183.7 410.26,73.39 410.85,163.79 411.29,65.26 411.77,166.11 412.11,68.86 412.5,56.05 412.64,162.14 413,78.71 413.42,162.01 413.99,61.05 414.32,153.5 414.89,53.4 415.1,78.42 415.26,167.15 415.75,59.84 416.27,153.59 416.6,87.64 417,183.7 417.09,163.32 417.52,81.41 417.94,155.15 418.45,44.77 418.7,38.94 418.84,151.37 419.4,74.04 419.82,152.33 420.1,55.39 420.21,58.51 420.79,150.23 421.12,104.59 421.63,157.36 422.09,73.97 422.46,152.74 422.5,19.2 422.86,79.61 423.47,163.84 423.93,156.79 424,183.7 424.24,162.79 424.69,85.38 425.19,146.48 425.67,67.51 426.19,146.93 426.5,58.68 426.63,93.12 427.09,163.49 427.4,71.43 427.92,147.79 428.62,147.79 429.13,71.43 429.45,163.49 429.9,93.12 430.03,58.68 430.35,146.93 430.87,67.51 431.35,146.48 431.85,85.38 432.29,162.79 432.53,183.7 432.6,156.79 433.06,163.84 433.67,79.61 434.03,19.2 434.08,152.74 434.44,73.97 434.9,157.36 435.41,104.59 435.75,150.23 436.32,58.51 436.43,55.39 436.71,152.33 437.13,74.04 437.69,151.37 437.83,38.94 438.09,44.77 438.59,155.15 439.01,81.41 439.44,163.32 439.53,183.7 439.93,87.64 440.26,153.59 440.79,59.84 441.27,167.15 441.43,78.42 441.65,53.4 442.22,153.5 442.54,61.05 443.11,162.01 443.53,78.71 443.9,162.14 444.03,56.05 444.43,68.86 444.76,166.11 445.24,65.26 445.68,163.79 446.27,73.39 446.53,183.7 446.55,161.06 447.02,113.24 447.61,171.32 448.04,110.34 448.5,167.95 448.82,81.97 448.83,61.15 449.29,170.43 449.71,91.01 450.24,161.87 450.65,118.33 450.83,76.77 451.13,173.13 451.65,140.1 451.95,168.5 452.46,123.43 452.97,172.74 453.4,123.06 453.53,99.8 453.88,173.5 454.33,172.33 454.65,173.65 455.14,143.9 455.6,175.49 456,138.43 456.52,171.2 457,149.49 457.5,176.96 457.93,143.66 458.26,177.62 458.75,149.8 459.21,174.23 459.67,149.76 460.14,178.61 460.66,143 461,176.9 461.51,152.2 461.91,175.68 462.43,144.34 462.75,177.14 463.2,145 463.8,175.99 464.13,176.48 464.64,178.16 465.13,178.25 465.59,176.41 465.95,152.12 466.36,178.23 466.97,157.38 467.41,176.67 467.82,162.92 468.23,177.29 468.74,167.3 469.1,177.49 469.57,155.99 469.97,178.57 470.57,164.18 470.85,178.29 471.37,161.02 471.75,177.3 472.3,169.48 472.68,177.92 473.18,165.6 473.58,177.07 474.03,178.62 474.54,178.76 475,167.07 475.41,178.15 475.93,161.58 476.41,178.72 476.76,166.25 477.15,178.76 477.76,177.34 478.08,177.68 478.52,168.58 478.96,177.07 479.45,178.03 479.94,176.84 480.44,178.82 480.91,177.2 481.24,160.5 481.72,178.25 482.24,164.97 482.71,178.14 483,177.01 483.46,178.52 484.02,161.64 484.41,176.9 484.92,177.38 485.34,177.1 485.84,176.89 486.3,177.87 486.77,178.95 487.13,178.46 487.61,159.73 488.05,178.21 488.57,173.15 488.97,176.72 489.39,176.98 489.75,178.76 490.36,177.08 490.8,176.62 491.13,160.41 491.72,177.46 492.12,165.73 492.62,177.23 492.93,160.61 493.36,178.29 493.92,161.44 494.42,177.39 494.77,164.65 495.2,176.71 495.73,163.1 496.05,177.53 496.58,177.21 497.01,178.08 497.47,178.11 497.89,177.31 498.31,162.87 498.83,178.78 499.26,178.67 499.74,178.48 500.19,177.9 500.71,178.62 501.02,176.47 501.62,176.9 502.05,177.2 502.42,175.21 502.94,175.08 503.39,172.91 503.84,172.54 504.25,172.97 504.64,170.16 505.12,169.98 505.5,173.22 506.05,170.23 506.42,173.61 506.86,172.51 507.39,172.27 507.8,172.08 508.37,174.46 508.81,170.42 509.24,172.94 509.63,170.46 510.11,170.68 510.5,173.06 510.98,173.09 511.37,173.58 511.86,171.35 512.26,172.82 512.8,170.83 513.17,174.38 513.67,170 514.13,173.74 514.6,170.89 515.01,173.72 515.42,172.99 515.9,173.16 516.31,170.75 516.89,170.88 517.36,173.25 517.8,172.47 518.15,173.2 518.64,172.27 519.01,170.39 519.57,173.03 519.93,173.68 520.36,173.77 520.88,170.49 521.36,173.77 521.84,171.4 522.25,169.74 522.65,173.44 523.05,171.25 523.56,168.61 524.05,169.75 524.45,171.15 524.95,172.36 525.45,171.83 525.82,173.28 526.26,171.99 526.77,171.31 527.26,174.29 527.69,173.74 528.04,174.06 528.52,172.65 529.06,172.19 529.38,174.16 529.92,170.62 530.33,172.23"/>
<polyline fill="none" stroke-linejoin="round" stroke="#ff0000" stroke-width="0.5" stroke-opacity="0.2" points="326.2,174.78 326.61,176.39 327.16,174.51 327.48,175.87 328.02,176.67 328.49,175.54 328.84,175.21 329.27,174.41 329.76,175.02 330.28,175.65 330.71,175.34 331.09,176.16 331.59,174.88 332.08,177.22 332.49,175.05 332.97,174.57 333.48,177.24 333.88,177.22 334.28,174.21 334.69,174.2 335.17,176.76 335.65,174.11 336.17,175.94 336.6,175.54 336.97,175.71 337.53,173.78 337.89,174.24 338.38,175.21 338.73,174.07 339.18,175.17 339.65,174.1 340.22,174.76 340.63,175.7 341.11,175.35 341.53,177.36 341.93,174.66 342.4,176.89 342.87,174.03 343.37,177.23 343.74,174.87 344.27,174.65 344.67,175.46 345.16,177.04 345.55,174.5 346.03,176.24 346.42,176.02 346.9,174.92 347.3,173.93 347.73,177.04 348.17,175.83 348.74,174.99 349.14,175.38 349.67,174.1 350.11,175.24 350.48,177.11 351.04,175.65 351.42,176.87 351.9,175.76 352.28,174.4 352.7,170.49 353.14,177.58 353.59,177.69 354.12,177.01 354.48,177.68 354.91,178.03 355.51,179.12 355.83,177.77 356.34,178.67 356.8,177.79 357.27,179.64 357.7,178.67 358.23,172 358.65,177.76 359.06,178.07 359.52,178.45 359.95,179.25 360.48,178.03 360.8,168.3 361.33,177.78 361.76,168.55 362.12,178.17 362.61,173.87 363.18,179 363.6,170.89 363.91,177.57 364.41,177.97 364.81,177.6 365.41,178.28 365.73,177.39 366.17,177.74 366.79,178.81 367.14,177.96 367.57,177.77 367.97,172.23 368.48,177.05 368.93,170.29 369.4,178.95 369.76,178.75 370.24,179.28 370.7,176.93 371.19,178.82 371.61,177.15 372.12,177.93 372.51,170.56 373.07,178.65 373.53,178.52 373.82,177.22 374.3,169.66 374.81,178.77 375.3,170.16 375.62,177.78 376.09,178.92 376.59,176.54 377.08,177.3 377.57,177.89 378.02,178.64 378.45,177.19 378.77,178.75 379.39,176.49 379.77,176.97 380.13,177.06 380.61,176.88 381.12,176.61 381.53,172.04 381.99,176.7 382.5,178.58 382.96,176.96 383.36,173.67 383.85,178.26 384.23,178.52 384.79,176.28 385.17,170.33 385.68,178.47 385.97,177.13 386.57,178.24 386.96,163.37 387.44,176.11 387.79,176.84 388.31,176.55 388.71,162.16 389.13,176.46 389.56,159.71 390.17,177.64 390.58,177.19 390.95,177.89 391.41,176.88 391.89,178.03 392.41,177.26 392.73,176.06 393.33,156.19 393.78,176.75 394.1,178.17 394.63,176.07 395.02,160.14 395.54,175.41 395.88,175.46 396.39,174.92 396.87,161.04 397.32,174.55 397.78,177.97 398.27,177.97 398.6,172.85 399.04,173.08 399.53,154.05 400.01,174.77 400.53,147.64 400.94,169.9 401.39,141.43 401.89,168.14 402.21,171.83 402.66,166.57 403.14,140.16 403.56,163.92 404.08,168.76 404.58,161.53 404.89,127.52 405.4,163.94 405.88,157.54 406.3,161.5 406.82,140.09 407.24,164.21 407.72,135.53 408.03,160.76 408.5,156.65 408.92,158.3 409.51,131.87 409.98,163.21 410.26,147.43 410.85,154.36 411.29,126.13 411.77,159.57 412.11,153.1 412.64,161.25 413,144.49 413.42,154.69 413.99,137.65 414.32,151.66 414.89,132.05 415.26,145.42 415.75,146.98 416.27,161.89 416.6,139.73 417.09,153.19 417.52,127.38 417.94,156.19 418.45,158.59 418.84,150.02 419.4,152.02 419.82,161.71 420.21,133.87 420.79,160.36 421.12,142.24 421.63,150.87 422.09,154.55 422.46,150.87 422.86,119.2 423.47,158.44 423.93,162.17 424.24,140.7 424.69,135.73 425.19,157.58 425.67,146.48 426.19,139.64 426.63,144.05 427.09,153.42 427.4,132.32 427.92,160.94 428.62,160.94 429.13,132.32 429.45,153.42 429.9,144.05 430.35,139.64 430.87,146.48 431.35,157.58 431.85,135.73 432.29,140.7 432.6,162.17 433.06,158.44 433.67,119.2 434.08,150.87 434.44,154.55 434.9,150.87 435.41,142.24 435.75,160.36 436.32,133.87 436.71,161.71 437.13,152.02 437.69,150.02 438.09,158.59 438.59,156.19 439.01,127.38 439.44,153.19 439.93,139.73 440.26,161.89 440.79,146.98 441.27,145.42 441.65,132.05 442.22,151.66 442.54,137.65 443.11,154.69 443.53,144.49 443.9,161.25 444.43,153.1 444.76,159.57 445.24,126.13 445.68,154.36 446.27,147.43 446.55,163.21 447.02,131.87 447.61,158.3 448.04,156.65 448.5,160.76 448.82,135.53 449.29,164.21 449.71,140.09 450.24,161.5 450.65,157.54 451.13,163.94 451.65,127.52 451.95,161.53 452.46,168.76 452.97,163.92 453.4,140.16 453.88,166.57 454.33,171.83 454.65,168.14 455.14,141.43 455.6,169.9 456,147.64 456.52,174.77 457,154.05 457.5,173.08 457.93,172.85 458.26,177.97 458.75,177.97 459.21,174.55 459.67,161.04 460.14,174.92 460.66,175.46 461,175.41 461.51,160.14 461.91,176.07 462.43,178.17 462.75,176.75 463.2,156.19 463.8,176.06 464.13,177.26 464.64,178.03 465.13,176.88 465.59,177.89 465.95,177.19 466.36,177.64 466.97,159.71 467.41,176.46 467.82,162.16 468.23,176.55 468.74,176.84 469.1,176.11 469.57,163.37 469.97,178.24 470.57,177.13 470.85,178.47 471.37,170.33 471.75,176.28 472.3,178.52 472.68,178.26 473.18,173.67 473.58,176.96 474.03,178.58 474.54,176.7 475,172.04 475.41,176.61 475.93,176.88 476.41,177.06 476.76,176.97 477.15,176.49 477.76,178.75 478.08,177.19 478.52,178.64 478.96,177.89 479.45,177.3 479.94,176.54 480.44,178.92 480.91,177.78 481.24,170.16 481.72,178.77 482.24,169.66 482.71,177.22 483,178.52 483.46,178.65 484.02,170.56 484.41,177.93 484.92,177.15 485.34,178.82 485.84,176.93 486.3,179.28 486.77,178.75 487.13,178.95 487.61,170.29 488.05,177.05 488.57,172.23 488.97,177.77 489.39,177.96 489.75,178.81 490.36,177.74 490.8,177.39 491.13,178.28 491.72,177.6 492.12,177.97 492.62,177.57 492.93,170.89 493.36,179 493.92,173.87 494.42,178.17 494.77,168.55 495.2,177.78 495.73,168.3 496.05,178.03 496.58,179.25 497.01,178.45 497.47,178.07 497.89,177.76 498.31,172 498.83,178.67 499.26,179.64 499.74,177.79 500.19,178.67 500.71,177.77 501.02,179.12 501.62,178.03 502.05,177.68 502.42,177.01 502.94,177.69 503.39,177.58 503.84,170.49 504.25,174.4 504.64,175.76 505.12,176.87 505.5,175.65 506.05,177.11 506.42,175.24 506.86,174.1 507.39,175.38 507.8,174.99 508.37,175.83 508.81,177.04 509.24,173.93 509.63,174.92 510.11,176.02 510.5,176.24 510.98,174.5 511.37,177.04 511.86,175.46 512.26,174.65 512.8,174.87 513.17,177.23 513.67,174.03 514.13,176.89 514.6,174.66 515.01,177.36 515.42,175.35 515.9,175.7 516.31,174.76 516.89,174.1 517.36,175.17 517.8,174.07 518.15,175.21 518.64,174.24 519.01,173.78 519.57,175.71 519.93,175.54 520.36,175.94 520.88,174.11 521.36,176.76 521.84,174.2 522.25,174.21 522.65,177.22 523.05,177.24 523.56,174.57 524.05,175.05 524.45,177.22 524.95,174.88 525.45,176.16 525.82,175.34 526.26,175.65 526.77,175.02 527.26,174.41 527.69,175.21 528.04,175.54 528.52,176.67 529.06,175.87 529.38,174.51 529.92,176.39 530.33,174.78"/>
</g>
<rect x="326.2" y="19.2" width="208.3" height="164.5" fill="none" stroke="#262626" stroke-width="0.55"/>
<path d="M326.2 183.7v-2.0 M326.2 19.2v2.0 M349.34 183.7v-2.0 M349.34 19.2v2.0 M372.49 183.7v-2.0 M372.49 19.2v2.0 M395.63 183.7v-2.0 M395.63 19.2v2.0 M418.78 183.7v-2.0 M418.78 19.2v2.0 M441.92 183.7v-2.0 M441.92 19.2v2.0 M465.07 183.7v-2.0 M465.07 19.2v2.0 M488.21 183.7v-2.0 M488.21 19.2v2.0 M511.36 183.7v-2.0 M511.36 19.2v2.0 M534.5 183.7v-2.0 M534.5 19.2v2.0 M326.2 183.7h2.0 M534.5 183.7h-2.0 M326.2 167.25h2.0 M534.5 167.25h-2.0 M326.2 150.8h2.0 M534.5 150.8h-2.0 M326.2 134.35h2.0 M534.5 134.35h-2.0 M326.2 117.9h2.0 M534.5 117.9h-2.0 M326.2 101.45h2.0 M534.5 101.45h-2.0 M326.2 85h2.0 M534.5 85h-2.0 M326.2 68.55h2.0 M534.5 68.55h-2.0 M326.2 52.1h2.0 M534.5 52.1h-2.0 M326.2 35.65h2.0 M534.5 35.65h-2.0 M326.2 19.2h2.0 M534.5 19.2h-2.0" stroke="#262626" stroke-width="0.6" fill="none"/>
<text x="326.2" y="193.61" font-size="6.4" text-anchor="middle" fill="#3c3c3c" stroke="#3c3c3c" stroke-width="0.12">0</text>
<text x="349.34" y="193.61" font-size="6.4" text-anchor="middle" fill="#3c3c3c" stroke="#3c3c3c" stroke-width="0.12">0.5</text>
<text x="372.49" y="193.61" font-size="6.4" text-anchor="middle" fill="#3c3c3c" stroke="#3c3c3c" stroke-width="0.12">1</text>
<text x="395.63" y="193.61" font-size="6.4" text-anchor="middle" fill="#3c3c3c" stroke="#3c3c3c" stroke-width="0.12">1.5</text>
<text x="418.78" y="193.61" font-size="6.4" text-anchor="middle" fill="#3c3c3c" stroke="#3c3c3c" stroke-width="0.12">2</text>
<text x="441.92" y="193.61" font-size="6.4" text-anchor="middle" fill="#3c3c3c" stroke="#3c3c3c" stroke-width="0.12">2.5</text>
<text x="465.07" y="193.61" font-size="6.4" text-anchor="middle" fill="#3c3c3c" stroke="#3c3c3c" stroke-width="0.12">3</text>
<text x="488.21" y="193.61" font-size="6.4" text-anchor="middle" fill="#3c3c3c" stroke="#3c3c3c" stroke-width="0.12">3.5</text>
<text x="511.36" y="193.61" font-size="6.4" text-anchor="middle" fill="#3c3c3c" stroke="#3c3c3c" stroke-width="0.12">4</text>
<text x="534.5" y="193.61" font-size="6.4" text-anchor="middle" fill="#3c3c3c" stroke="#3c3c3c" stroke-width="0.12">4.5</text>
<text x="323" y="186.5" font-size="6.4" text-anchor="end" fill="#3c3c3c" stroke="#3c3c3c" stroke-width="0.12">0</text>
<text x="323" y="170.05" font-size="6.4" text-anchor="end" fill="#3c3c3c" stroke="#3c3c3c" stroke-width="0.12">0.1</text>
<text x="323" y="153.6" font-size="6.4" text-anchor="end" fill="#3c3c3c" stroke="#3c3c3c" stroke-width="0.12">0.2</text>
<text x="323" y="137.15" font-size="6.4" text-anchor="end" fill="#3c3c3c" stroke="#3c3c3c" stroke-width="0.12">0.3</text>
<text x="323" y="120.7" font-size="6.4" text-anchor="end" fill="#3c3c3c" stroke="#3c3c3c" stroke-width="0.12">0.4</text>
<text x="323" y="104.25" font-size="6.4" text-anchor="end" fill="#3c3c3c" stroke="#3c3c3c" stroke-width="0.12">0.5</text>
<text x="323" y="87.8" font-size="6.4" text-anchor="end" fill="#3c3c3c" stroke="#3c3c3c" stroke-width="0.12">0.6</text>
<text x="323" y="71.35" font-size="6.4" text-anchor="end" fill="#3c3c3c" stroke="#3c3c3c" stroke-width="0.12">0.7</text>
<text x="323" y="54.9" font-size="6.4" text-anchor="end" fill="#3c3c3c" stroke="#3c3c3c" stroke-width="0.12">0.8</text>
<text x="323" y="38.45" font-size="6.4" text-anchor="end" fill="#3c3c3c" stroke="#3c3c3c" stroke-width="0.12">0.9</text>
<text x="323" y="22" font-size="6.4" text-anchor="end" fill="#3c3c3c" stroke="#3c3c3c" stroke-width="0.12">1</text>
<text x="534.5" y="204.2" font-size="6.4" text-anchor="end" fill="#262626">&#215;10<tspan font-size="4.48" dy="-3.2">4</tspan></text>
<text x="430.35" y="202.7" font-size="7.04" text-anchor="middle" fill="#262626">Frequency (Hz)</text>
<text transform="translate(311.2 101.45) rotate(-90)" font-size="7.04" text-anchor="middle" fill="#262626">Amplitude</text>
<text x="430.35" y="16" font-size="7.04" font-weight="bold" text-anchor="middle" fill="#262626">Goertzel right channels comparative. Test 2</text>
<rect x="476.1" y="24.3" width="53.2" height="17" fill="#fff" stroke="#262626" stroke-width="0.6"/>
<path d="M478.2 28.9H496.6" stroke="#d04848" stroke-width="0.8" stroke-opacity="0.75"/>
<text x="498.6" y="31" font-size="5.82" fill="#262626">Stego file</text>
<path d="M478.2 36.6H496.6" stroke="#4848b8" stroke-width="0.8" stroke-opacity="0.75"/>
<text x="498.6" y="38.7" font-size="5.82" fill="#262626">Original file</text>
<text x="415.9" y="218.7" font-size="11.5" font-weight="bold" text-anchor="middle" font-family="Liberation Serif, serif" fill="#111">(d)</text>
<g filter="url(#bl)">
<polyline fill="none" stroke-linejoin="round" stroke="#ff0000" stroke-width="0.7" stroke-opacity="1.0" points="32.2,400.2 32.6,401.05 33.15,399.72 33.56,401.77 33.93,401.36 34.44,399.71 34.9,401.75 35.29,401.52 35.84,400.5 36.18,399.93 36.68,400.26 37.15,401.78 37.59,401.12 38.07,399.61 38.54,400.92 39.03,401.35 39.36,401.87 39.88,401.16 40.34,399.33 40.71,401.74 41.11,400.36 41.74,399.38 42.06,399.96 42.52,401.1 43.07,400.1 43.47,401.55 43.89,400.51 44.4,398.65 44.72,399.48 45.29,399.5 45.68,399.79 46.08,396.37 46.63,399.69 47.13,399.19 47.45,400.86 47.97,400.44 48.36,401.43 48.89,401.58 49.34,399.9 49.7,399.26 50.26,400.23 50.68,401.57 51.13,400.04 51.61,398.54 51.99,399.3 52.5,400.81 52.97,400.81 53.28,396.04 53.86,399.94 54.23,399.72 54.7,401.56 55.09,400.99 55.64,401.73 56.01,401.23 56.57,399.87 56.91,398.5 57.41,399.19 57.83,401.69 58.32,400.7 58.7,399.18 59.14,400.19 59.69,394.55 60.15,398.89 60.56,398.4 61.08,401.16 61.4,399.53 61.96,401.06 62.29,400.91 62.88,399.3 63.27,393.03 63.72,398.05 64.23,393.95 64.65,400.9 65.1,393.14 65.42,400.53 65.93,398.2 66.33,397.16 66.79,399.06 67.25,401.13 67.81,395.14 68.13,401.71 68.61,389.28 69.1,401.39 69.61,391.02 70.08,397.31 70.49,399.37 70.85,397.48 71.36,397.46 71.84,398.37 72.17,401.59 72.73,398.79 73.13,395.86 73.62,401.68 74.08,396.64 74.53,400.33 74.95,398.31 75.41,399.31 75.8,398.15 76.3,398.81 76.68,397.28 77.2,399.56 77.66,397.83 78.15,397.97 78.53,399.05 78.91,399.42 79.45,399.76 79.85,398.78 80.39,396.35 80.78,399.72 81.23,398.77 81.77,400.32 82.13,400.74 82.57,401.24 83.02,393.2 83.5,397.73 83.88,397.92 84.41,398.5 84.93,398.97 85.31,401.46 85.79,397.7 86.28,399.57 86.71,398.59 87.14,401.18 87.61,398.32 88.06,401.06 88.41,396.44 88.9,398.48 89.32,399.3 89.76,398.74 90.26,398.56 90.67,399.45 91.17,401.34 91.61,400.45 91.98,400.42 92.49,400.91 92.93,393.19 93.44,401.32 93.78,386.84 94.24,399.68 94.75,395.51 95.18,396.94 95.68,392.82 96.07,400.17 96.5,394.61 97.08,398.38 97.4,396.48 97.84,394.93 98.31,384.95 98.77,394.23 99.2,388.98 99.71,393.75 100.23,397.35 100.53,396.25 101.03,387.33 101.53,393.98 102.02,371.21 102.49,393.27 102.79,395.32 103.31,391.96 103.82,356.58 104.12,395.46 104.67,353.79 105.04,389.87 105.6,365.28 106.08,392.16 106.46,361.61 106.81,389.02 107.27,348.66 107.78,386.13 108.31,381.38 108.65,386.6 109.18,348.43 109.58,377.02 110.01,370.53 110.54,385.99 110.92,368.55 111.38,392.53 111.9,393.11 112.3,377.61 112.8,387.08 113.2,382.42 113.59,373.77 114.09,371.83 114.62,327 115.01,380.49 115.53,367.06 115.81,383.68 116.32,368.6 116.85,377.27 117.28,369.7 117.71,362.35 118.18,356.28 118.67,381.62 119.08,369.4 119.51,384.16 119.96,362.54 120.43,391.47 120.82,393.78 121.33,393.2 121.77,361.01 122.25,358.53 122.65,365.12 123.01,355.42 123.56,358.91 124.06,373.7 124.48,355.43 124.93,378.46 125.33,370.02 125.77,376.56 126.29,329.49 126.62,374.23 127.22,319.73 127.67,380.91 128.13,311.99 128.43,368.08 128.88,359 129.47,365.62 129.83,351.94 130.26,375.55 130.73,351.83 131.23,364.81 131.59,321.04 132.1,370.04 132.58,344.77 133.04,377.49 133.36,363.87 133.96,352.73 134.34,381.77 135.18,381.77 135.56,352.73 136.15,363.87 136.47,377.49 136.94,344.77 137.42,370.04 137.92,321.04 138.29,364.81 138.79,351.83 139.26,375.55 139.68,351.94 140.04,365.62 140.63,359 141.08,368.08 141.38,311.99 141.85,380.91 142.3,319.73 142.89,374.23 143.22,329.49 143.74,376.56 144.18,370.02 144.59,378.46 145.04,355.43 145.45,373.7 145.96,358.91 146.5,355.42 146.87,365.12 147.26,358.53 147.74,361.01 148.18,393.2 148.7,393.78 149.08,391.47 149.55,362.54 150.01,384.16 150.43,369.4 150.85,381.62 151.33,356.28 151.8,362.35 152.23,369.7 152.67,377.27 153.19,368.6 153.7,383.68 153.98,367.06 154.5,380.49 154.9,327 155.42,371.83 155.93,373.77 156.31,382.42 156.71,387.08 157.21,377.61 157.62,393.11 158.14,392.53 158.6,368.55 158.98,385.99 159.51,370.53 159.93,377.02 160.33,348.43 160.86,386.6 161.2,381.38 161.73,386.13 162.24,348.66 162.7,389.02 163.06,361.61 163.44,392.16 163.92,365.28 164.47,389.87 164.85,353.79 165.39,395.46 165.7,356.58 166.21,391.96 166.73,395.32 167.02,393.27 167.49,371.21 167.98,393.98 168.48,387.33 168.98,396.25 169.29,397.35 169.81,393.75 170.31,388.98 170.74,394.23 171.2,384.95 171.68,394.93 172.11,396.48 172.44,398.38 173.02,394.61 173.44,400.17 173.83,392.82 174.33,396.94 174.76,395.51 175.27,399.68 175.74,386.84 176.08,401.32 176.58,393.19 177.02,400.91 177.54,400.42 177.9,400.45 178.34,401.34 178.85,399.45 179.25,398.56 179.76,398.74 180.19,399.3 180.62,398.48 181.11,396.44 181.46,401.06 181.91,398.32 182.37,401.18 182.8,398.59 183.23,399.57 183.72,397.7 184.2,401.46 184.59,398.97 185.11,398.5 185.64,397.92 186.02,397.73 186.49,393.2 186.94,401.24 187.38,400.74 187.74,400.32 188.29,398.77 188.73,399.72 189.12,396.35 189.67,398.78 190.06,399.76 190.6,399.42 190.98,399.05 191.36,397.97 191.86,397.83 192.32,399.56 192.83,397.28 193.21,398.81 193.72,398.15 194.1,399.31 194.56,398.31 194.98,400.33 195.43,396.64 195.9,401.68 196.39,395.86 196.78,398.79 197.34,401.59 197.68,398.37 198.16,397.46 198.67,397.48 199.03,399.37 199.43,397.31 199.9,391.02 200.42,401.39 200.9,389.28 201.38,401.71 201.7,395.14 202.27,401.13 202.72,399.06 203.19,397.16 203.59,398.2 204.09,400.53 204.41,393.14 204.86,400.9 205.28,393.95 205.79,398.05 206.24,393.03 206.63,399.3 207.22,400.91 207.55,401.06 208.12,399.53 208.44,401.16 208.95,398.4 209.37,398.89 209.82,394.55 210.37,400.19 210.82,399.18 211.19,400.7 211.68,401.69 212.1,399.19 212.6,398.5 212.95,399.87 213.5,401.23 213.88,401.73 214.43,400.99 214.82,401.56 215.28,399.72 215.65,399.94 216.24,396.04 216.55,400.81 217.02,400.81 217.53,399.3 217.91,398.54 218.38,400.04 218.84,401.57 219.25,400.23 219.81,399.26 220.17,399.9 220.62,401.58 221.15,401.43 221.54,400.44 222.07,400.86 222.39,399.19 222.89,399.69 223.44,396.37 223.84,399.79 224.23,399.5 224.8,399.48 225.11,398.65 225.62,400.51 226.05,401.55 226.44,400.1 227,401.1 227.45,399.96 227.78,399.38 228.4,400.36 228.8,401.74 229.18,399.33 229.64,401.16 230.15,401.87 230.48,401.35 230.97,400.92 231.45,399.61 231.93,401.12 232.36,401.78 232.83,400.26 233.33,399.93 233.67,400.5 234.23,401.52 234.62,401.75 235.08,399.71 235.59,401.36 235.95,401.77 236.36,399.72 236.91,401.05 237.31,400.2"/>
<polyline fill="none" stroke-linejoin="round" stroke="#0000ff" stroke-width="0.7" stroke-opacity="0.95" points="32.2,400.21 32.6,394.8 33.15,400.78 33.56,398.56 33.93,401.03 34.44,399.82 34.9,401.19 35.29,399.55 35.84,398.51 36.18,398.58 36.68,401.31 37.15,397.59 37.59,398.54 38.07,400.75 38.54,400.29 39.03,399.2 39.36,399.1 39.88,400.15 40.34,399.47 40.71,399.36 41.11,400.51 41.74,399.42 42.06,399.69 42.52,399.25 43.07,399.93 43.47,396.65 43.89,400.22 44.4,396.53 44.72,401.12 45.29,401.26 45.68,401.76 46.08,395.1 46.63,398.19 47.13,400.94 47.45,400.83 47.97,401.08 48.36,399.61 48.89,400.03 49.34,398.8 49.7,401.04 50.26,398.59 50.68,398.67 51.13,398.85 51.61,396.46 51.99,398.47 52.5,395.61 52.97,399.57 53.28,394.84 53.86,401.11 54.23,399.97 54.7,398.42 55.09,398.48 55.64,401.72 56.01,399.38 56.57,400.61 56.91,395.42 57.41,401.29 57.83,398.9 58.32,398.09 58.7,399.65 59.14,400.08 59.69,391.43 60.15,397.58 60.56,397.78 61.08,401.3 61.4,400.42 61.96,396.34 62.29,387.63 62.88,397.6 63.27,396.87 63.72,397.73 64.23,390.45 64.65,398.28 65.1,390.8 65.42,400.47 65.93,394.82 66.33,401.54 66.79,396.85 67.25,396.24 67.81,389.47 68.13,401.31 68.61,388.85 69.1,399.6 69.61,387.36 70.08,399 70.49,395.87 70.85,400.88 71.36,393.34 71.84,401.33 72.17,395.89 72.73,399.58 73.13,394.15 73.62,401.59 74.08,398.88 74.53,397.48 74.95,395.03 75.41,396.69 75.8,389.48 76.3,399.16 76.68,397.47 77.2,401.43 77.66,396.51 78.15,399.07 78.53,390.69 78.91,400.25 79.45,394.29 79.85,401.31 80.39,397.1 80.78,399.75 81.23,400.03 81.77,397.15 82.13,396.49 82.57,396.1 83.02,391.58 83.5,399.81 83.88,392.79 84.41,400.85 84.93,400.13 85.31,397.92 85.79,388.75 86.28,399.8 86.71,388.13 87.14,396.71 87.61,395.77 88.06,401.09 88.41,391.84 88.9,396.98 89.32,398.59 89.76,399.02 90.26,396.81 90.67,396.97 91.17,397.79 91.61,395.74 91.98,386.73 92.49,398.88 92.93,386.32 93.44,399.56 93.78,385.17 94.24,399.87 94.75,381.15 95.18,393.71 95.68,384.78 96.07,393.75 96.5,392.6 97.08,392.49 97.4,384.54 97.84,399 98.31,368.45 98.77,397.79 99.2,376.99 99.71,400.09 100.23,373.92 100.53,397.81 101.03,394.22 101.53,391.08 102.02,364.89 102.49,394.42 102.79,359.34 103.31,390 103.82,347.05 104.12,390.92 104.67,345.67 105.04,391.47 105.6,355.7 106.08,390.77 106.46,340.41 106.81,394.71 107.27,333.26 107.78,387.34 108.31,335.85 108.65,386.51 109.18,340.2 109.58,390.05 110.01,348.69 110.54,389.45 110.92,351.27 111.38,394.49 111.9,397.87 112,402.1 112.3,390.54 112.5,309.04 112.8,358.34 113.2,387.45 113.59,373.06 114.09,378.66 114.62,315.84 115.01,388.97 115.53,352.74 115.81,384.36 116.32,355.22 116.5,306.57 116.85,385.97 117.28,365.5 117.71,380 118.18,351.45 118.5,293.4 118.67,386.65 119.08,315.04 119.51,389.42 119.96,379.42 120,402.1 120.43,396.93 120.82,396.45 121.33,391.56 121.77,328.24 122.25,380.69 122.5,237.4 122.65,361.15 123.01,385.77 123.56,323.69 124.06,385.97 124.48,331.09 124.5,263.75 124.93,382.73 125.33,330.64 125.77,383.92 126,402.1 126.29,289.04 126.62,375.02 127.22,313.75 127.67,378.53 128.1,248.11 128.13,309.6 128.43,376.9 128.88,346.47 129.47,376.43 129.5,248.93 129.83,302.46 130.26,368.36 130.73,332.21 131,402.1 131.23,379.96 131.59,306.12 132.1,379.79 132.1,248.93 132.58,343.02 133.04,372.88 133.36,347.86 133.96,385.55 134.34,389.04 135.18,389.04 135.56,385.55 136.15,347.86 136.47,372.88 136.94,343.02 137.41,248.93 137.42,379.79 137.92,306.12 138.29,379.96 138.51,402.1 138.79,332.21 139.26,368.36 139.68,302.46 140.01,248.93 140.04,376.43 140.63,346.47 141.08,376.9 141.38,309.6 141.41,248.11 141.85,378.53 142.3,313.75 142.89,375.02 143.22,289.04 143.51,402.1 143.74,383.92 144.18,330.64 144.59,382.73 145.01,263.75 145.04,331.09 145.45,385.97 145.96,323.69 146.5,385.77 146.87,361.15 147.01,237.4 147.26,380.69 147.74,328.24 148.18,391.56 148.7,396.45 149.08,396.93 149.51,402.1 149.55,379.42 150.01,389.42 150.43,315.04 150.85,386.65 151.01,293.4 151.33,351.45 151.8,380 152.23,365.5 152.67,385.97 153.01,306.57 153.19,355.22 153.7,384.36 153.98,352.74 154.5,388.97 154.9,315.84 155.42,378.66 155.93,373.06 156.31,387.45 156.71,358.34 157.01,309.04 157.21,390.54 157.51,402.1 157.62,397.87 158.14,394.49 158.6,351.27 158.98,389.45 159.51,348.69 159.93,390.05 160.33,340.2 160.86,386.51 161.2,335.85 161.73,387.34 162.24,333.26 162.7,394.71 163.06,340.41 163.44,390.77 163.92,355.7 164.47,391.47 164.85,345.67 165.39,390.92 165.7,347.05 166.21,390 166.73,359.34 167.02,394.42 167.49,364.89 167.98,391.08 168.48,394.22 168.98,397.81 169.29,373.92 169.81,400.09 170.31,376.99 170.74,397.79 171.2,368.45 171.68,399 172.11,384.54 172.44,392.49 173.02,392.6 173.44,393.75 173.83,384.78 174.33,393.71 174.76,381.15 175.27,399.87 175.74,385.17 176.08,399.56 176.58,386.32 177.02,398.88 177.54,386.73 177.9,395.74 178.34,397.79 178.85,396.97 179.25,396.81 179.76,399.02 180.19,398.59 180.62,396.98 181.11,391.84 181.46,401.09 181.91,395.77 182.37,396.71 182.8,388.13 183.23,399.8 183.72,388.75 184.2,397.92 184.59,400.13 185.11,400.85 185.64,392.79 186.02,399.81 186.49,391.58 186.94,396.1 187.38,396.49 187.74,397.15 188.29,400.03 188.73,399.75 189.12,397.1 189.67,401.31 190.06,394.29 190.6,400.25 190.98,390.69 191.36,399.07 191.86,396.51 192.32,401.43 192.83,397.47 193.21,399.16 193.72,389.48 194.1,396.69 194.56,395.03 194.98,397.48 195.43,398.88 195.9,401.59 196.39,394.15 196.78,399.58 197.34,395.89 197.68,401.33 198.16,393.34 198.67,400.88 199.03,395.87 199.43,399 199.9,387.36 200.42,399.6 200.9,388.85 201.38,401.31 201.7,389.47 202.27,396.24 202.72,396.85 203.19,401.54 203.59,394.82 204.09,400.47 204.41,390.8 204.86,398.28 205.28,390.45 205.79,397.73 206.24,396.87 206.63,397.6 207.22,387.63 207.55,396.34 208.12,400.42 208.44,401.3 208.95,397.78 209.37,397.58 209.82,391.43 210.37,400.08 210.82,399.65 211.19,398.09 211.68,398.9 212.1,401.29 212.6,395.42 212.95,400.61 213.5,399.38 213.88,401.72 214.43,398.48 214.82,398.42 215.28,399.97 215.65,401.11 216.24,394.84 216.55,399.57 217.02,395.61 217.53,398.47 217.91,396.46 218.38,398.85 218.84,398.67 219.25,398.59 219.81,401.04 220.17,398.8 220.62,400.03 221.15,399.61 221.54,401.08 222.07,400.83 222.39,400.94 222.89,398.19 223.44,395.1 223.84,401.76 224.23,401.26 224.8,401.12 225.11,396.53 225.62,400.22 226.05,396.65 226.44,399.93 227,399.25 227.45,399.69 227.78,399.42 228.4,400.51 228.8,399.36 229.18,399.47 229.64,400.15 230.15,399.1 230.48,399.2 230.97,400.29 231.45,400.75 231.93,398.54 232.36,397.59 232.83,401.31 233.33,398.58 233.67,398.51 234.23,399.55 234.62,401.19 235.08,399.82 235.59,401.03 235.95,398.56 236.36,400.78 236.91,394.8 237.31,400.21"/>
<polyline fill="none" stroke-linejoin="round" stroke="#ff0000" stroke-width="0.5" stroke-opacity="0.2" points="32.2,400.2 32.6,401.05 33.15,399.72 33.56,401.77 33.93,401.36 34.44,399.71 34.9,401.75 35.29,401.52 35.84,400.5 36.18,399.93 36.68,400.26 37.15,401.78 37.59,401.12 38.07,399.61 38.54,400.92 39.03,401.35 39.36,401.87 39.88,401.16 40.34,399.33 40.71,401.74 41.11,400.36 41.74,399.38 42.06,399.96 42.52,401.1 43.07,400.1 43.47,401.55 43.89,400.51 44.4,398.65 44.72,399.48 45.29,399.5 45.68,399.79 46.08,396.37 46.63,399.69 47.13,399.19 47.45,400.86 47.97,400.44 48.36,401.43 48.89,401.58 49.34,399.9 49.7,399.26 50.26,400.23 50.68,401.57 51.13,400.04 51.61,398.54 51.99,399.3 52.5,400.81 52.97,400.81 53.28,396.04 53.86,399.94 54.23,399.72 54.7,401.56 55.09,400.99 55.64,401.73 56.01,401.23 56.57,399.87 56.91,398.5 57.41,399.19 57.83,401.69 58.32,400.7 58.7,399.18 59.14,400.19 59.69,394.55 60.15,398.89 60.56,398.4 61.08,401.16 61.4,399.53 61.96,401.06 62.29,400.91 62.88,399.3 63.27,393.03 63.72,398.05 64.23,393.95 64.65,400.9 65.1,393.14 65.42,400.53 65.93,398.2 66.33,397.16 66.79,399.06 67.25,401.13 67.81,395.14 68.13,401.71 68.61,389.28 69.1,401.39 69.61,391.02 70.08,397.31 70.49,399.37 70.85,397.48 71.36,397.46 71.84,398.37 72.17,401.59 72.73,398.79 73.13,395.86 73.62,401.68 74.08,396.64 74.53,400.33 74.95,398.31 75.41,399.31 75.8,398.15 76.3,398.81 76.68,397.28 77.2,399.56 77.66,397.83 78.15,397.97 78.53,399.05 78.91,399.42 79.45,399.76 79.85,398.78 80.39,396.35 80.78,399.72 81.23,398.77 81.77,400.32 82.13,400.74 82.57,401.24 83.02,393.2 83.5,397.73 83.88,397.92 84.41,398.5 84.93,398.97 85.31,401.46 85.79,397.7 86.28,399.57 86.71,398.59 87.14,401.18 87.61,398.32 88.06,401.06 88.41,396.44 88.9,398.48 89.32,399.3 89.76,398.74 90.26,398.56 90.67,399.45 91.17,401.34 91.61,400.45 91.98,400.42 92.49,400.91 92.93,393.19 93.44,401.32 93.78,386.84 94.24,399.68 94.75,395.51 95.18,396.94 95.68,392.82 96.07,400.17 96.5,394.61 97.08,398.38 97.4,396.48 97.84,394.93 98.31,384.95 98.77,394.23 99.2,388.98 99.71,393.75 100.23,397.35 100.53,396.25 101.03,387.33 101.53,393.98 102.02,371.21 102.49,393.27 102.79,395.32 103.31,391.96 103.82,356.58 104.12,395.46 104.67,353.79 105.04,389.87 105.6,365.28 106.08,392.16 106.46,361.61 106.81,389.02 107.27,348.66 107.78,386.13 108.31,381.38 108.65,386.6 109.18,348.43 109.58,377.02 110.01,370.53 110.54,385.99 110.92,368.55 111.38,392.53 111.9,393.11 112.3,377.61 112.8,387.08 113.2,382.42 113.59,373.77 114.09,371.83 114.62,327 115.01,380.49 115.53,367.06 115.81,383.68 116.32,368.6 116.85,377.27 117.28,369.7 117.71,362.35 118.18,356.28 118.67,381.62 119.08,369.4 119.51,384.16 119.96,362.54 120.43,391.47 120.82,393.78 121.33,393.2 121.77,361.01 122.25,358.53 122.65,365.12 123.01,355.42 123.56,358.91 124.06,373.7 124.48,355.43 124.93,378.46 125.33,370.02 125.77,376.56 126.29,329.49 126.62,374.23 127.22,319.73 127.67,380.91 128.13,311.99 128.43,368.08 128.88,359 129.47,365.62 129.83,351.94 130.26,375.55 130.73,351.83 131.23,364.81 131.59,321.04 132.1,370.04 132.58,344.77 133.04,377.49 133.36,363.87 133.96,352.73 134.34,381.77 135.18,381.77 135.56,352.73 136.15,363.87 136.47,377.49 136.94,344.77 137.42,370.04 137.92,321.04 138.29,364.81 138.79,351.83 139.26,375.55 139.68,351.94 140.04,365.62 140.63,359 141.08,368.08 141.38,311.99 141.85,380.91 142.3,319.73 142.89,374.23 143.22,329.49 143.74,376.56 144.18,370.02 144.59,378.46 145.04,355.43 145.45,373.7 145.96,358.91 146.5,355.42 146.87,365.12 147.26,358.53 147.74,361.01 148.18,393.2 148.7,393.78 149.08,391.47 149.55,362.54 150.01,384.16 150.43,369.4 150.85,381.62 151.33,356.28 151.8,362.35 152.23,369.7 152.67,377.27 153.19,368.6 153.7,383.68 153.98,367.06 154.5,380.49 154.9,327 155.42,371.83 155.93,373.77 156.31,382.42 156.71,387.08 157.21,377.61 157.62,393.11 158.14,392.53 158.6,368.55 158.98,385.99 159.51,370.53 159.93,377.02 160.33,348.43 160.86,386.6 161.2,381.38 161.73,386.13 162.24,348.66 162.7,389.02 163.06,361.61 163.44,392.16 163.92,365.28 164.47,389.87 164.85,353.79 165.39,395.46 165.7,356.58 166.21,391.96 166.73,395.32 167.02,393.27 167.49,371.21 167.98,393.98 168.48,387.33 168.98,396.25 169.29,397.35 169.81,393.75 170.31,388.98 170.74,394.23 171.2,384.95 171.68,394.93 172.11,396.48 172.44,398.38 173.02,394.61 173.44,400.17 173.83,392.82 174.33,396.94 174.76,395.51 175.27,399.68 175.74,386.84 176.08,401.32 176.58,393.19 177.02,400.91 177.54,400.42 177.9,400.45 178.34,401.34 178.85,399.45 179.25,398.56 179.76,398.74 180.19,399.3 180.62,398.48 181.11,396.44 181.46,401.06 181.91,398.32 182.37,401.18 182.8,398.59 183.23,399.57 183.72,397.7 184.2,401.46 184.59,398.97 185.11,398.5 185.64,397.92 186.02,397.73 186.49,393.2 186.94,401.24 187.38,400.74 187.74,400.32 188.29,398.77 188.73,399.72 189.12,396.35 189.67,398.78 190.06,399.76 190.6,399.42 190.98,399.05 191.36,397.97 191.86,397.83 192.32,399.56 192.83,397.28 193.21,398.81 193.72,398.15 194.1,399.31 194.56,398.31 194.98,400.33 195.43,396.64 195.9,401.68 196.39,395.86 196.78,398.79 197.34,401.59 197.68,398.37 198.16,397.46 198.67,397.48 199.03,399.37 199.43,397.31 199.9,391.02 200.42,401.39 200.9,389.28 201.38,401.71 201.7,395.14 202.27,401.13 202.72,399.06 203.19,397.16 203.59,398.2 204.09,400.53 204.41,393.14 204.86,400.9 205.28,393.95 205.79,398.05 206.24,393.03 206.63,399.3 207.22,400.91 207.55,401.06 208.12,399.53 208.44,401.16 208.95,398.4 209.37,398.89 209.82,394.55 210.37,400.19 210.82,399.18 211.19,400.7 211.68,401.69 212.1,399.19 212.6,398.5 212.95,399.87 213.5,401.23 213.88,401.73 214.43,400.99 214.82,401.56 215.28,399.72 215.65,399.94 216.24,396.04 216.55,400.81 217.02,400.81 217.53,399.3 217.91,398.54 218.38,400.04 218.84,401.57 219.25,400.23 219.81,399.26 220.17,399.9 220.62,401.58 221.15,401.43 221.54,400.44 222.07,400.86 222.39,399.19 222.89,399.69 223.44,396.37 223.84,399.79 224.23,399.5 224.8,399.48 225.11,398.65 225.62,400.51 226.05,401.55 226.44,400.1 227,401.1 227.45,399.96 227.78,399.38 228.4,400.36 228.8,401.74 229.18,399.33 229.64,401.16 230.15,401.87 230.48,401.35 230.97,400.92 231.45,399.61 231.93,401.12 232.36,401.78 232.83,400.26 233.33,399.93 233.67,400.5 234.23,401.52 234.62,401.75 235.08,399.71 235.59,401.36 235.95,401.77 236.36,399.72 236.91,401.05 237.31,400.2"/>
</g>
<rect x="32.2" y="237.4" width="209.3" height="164.7" fill="none" stroke="#262626" stroke-width="0.55"/>
<path d="M32.2 402.1v-2.0 M32.2 237.4v2.0 M55.46 402.1v-2.0 M55.46 237.4v2.0 M78.71 402.1v-2.0 M78.71 237.4v2.0 M101.97 402.1v-2.0 M101.97 237.4v2.0 M125.22 402.1v-2.0 M125.22 237.4v2.0 M148.48 402.1v-2.0 M148.48 237.4v2.0 M171.73 402.1v-2.0 M171.73 237.4v2.0 M194.99 402.1v-2.0 M194.99 237.4v2.0 M218.24 402.1v-2.0 M218.24 237.4v2.0 M241.5 402.1v-2.0 M241.5 237.4v2.0 M32.2 402.1h2.0 M241.5 402.1h-2.0 M32.2 385.63h2.0 M241.5 385.63h-2.0 M32.2 369.16h2.0 M241.5 369.16h-2.0 M32.2 352.69h2.0 M241.5 352.69h-2.0 M32.2 336.22h2.0 M241.5 336.22h-2.0 M32.2 319.75h2.0 M241.5 319.75h-2.0 M32.2 303.28h2.0 M241.5 303.28h-2.0 M32.2 286.81h2.0 M241.5 286.81h-2.0 M32.2 270.34h2.0 M241.5 270.34h-2.0 M32.2 253.87h2.0 M241.5 253.87h-2.0 M32.2 237.4h2.0 M241.5 237.4h-2.0" stroke="#262626" stroke-width="0.6" fill="none"/>
<text x="32.2" y="411.97" font-size="6.35" text-anchor="middle" fill="#3c3c3c" stroke="#3c3c3c" stroke-width="0.12">0</text>
<text x="55.46" y="411.97" font-size="6.35" text-anchor="middle" fill="#3c3c3c" stroke="#3c3c3c" stroke-width="0.12">0.5</text>
<text x="78.71" y="411.97" font-size="6.35" text-anchor="middle" fill="#3c3c3c" stroke="#3c3c3c" stroke-width="0.12">1</text>
<text x="101.97" y="411.97" font-size="6.35" text-anchor="middle" fill="#3c3c3c" stroke="#3c3c3c" stroke-width="0.12">1.5</text>
<text x="125.22" y="411.97" font-size="6.35" text-anchor="middle" fill="#3c3c3c" stroke="#3c3c3c" stroke-width="0.12">2</text>
<text x="148.48" y="411.97" font-size="6.35" text-anchor="middle" fill="#3c3c3c" stroke="#3c3c3c" stroke-width="0.12">2.5</text>
<text x="171.73" y="411.97" font-size="6.35" text-anchor="middle" fill="#3c3c3c" stroke="#3c3c3c" stroke-width="0.12">3</text>
<text x="194.99" y="411.97" font-size="6.35" text-anchor="middle" fill="#3c3c3c" stroke="#3c3c3c" stroke-width="0.12">3.5</text>
<text x="218.24" y="411.97" font-size="6.35" text-anchor="middle" fill="#3c3c3c" stroke="#3c3c3c" stroke-width="0.12">4</text>
<text x="241.5" y="411.97" font-size="6.35" text-anchor="middle" fill="#3c3c3c" stroke="#3c3c3c" stroke-width="0.12">4.5</text>
<text x="29" y="404.89" font-size="6.35" text-anchor="end" fill="#3c3c3c" stroke="#3c3c3c" stroke-width="0.12">0</text>
<text x="29" y="388.42" font-size="6.35" text-anchor="end" fill="#3c3c3c" stroke="#3c3c3c" stroke-width="0.12">0.1</text>
<text x="29" y="371.95" font-size="6.35" text-anchor="end" fill="#3c3c3c" stroke="#3c3c3c" stroke-width="0.12">0.2</text>
<text x="29" y="355.48" font-size="6.35" text-anchor="end" fill="#3c3c3c" stroke="#3c3c3c" stroke-width="0.12">0.3</text>
<text x="29" y="339.01" font-size="6.35" text-anchor="end" fill="#3c3c3c" stroke="#3c3c3c" stroke-width="0.12">0.4</text>
<text x="29" y="322.54" font-size="6.35" text-anchor="end" fill="#3c3c3c" stroke="#3c3c3c" stroke-width="0.12">0.5</text>
<text x="29" y="306.07" font-size="6.35" text-anchor="end" fill="#3c3c3c" stroke="#3c3c3c" stroke-width="0.12">0.6</text>
<text x="29" y="289.6" font-size="6.35" text-anchor="end" fill="#3c3c3c" stroke="#3c3c3c" stroke-width="0.12">0.7</text>
<text x="29" y="273.13" font-size="6.35" text-anchor="end" fill="#3c3c3c" stroke="#3c3c3c" stroke-width="0.12">0.8</text>
<text x="29" y="256.66" font-size="6.35" text-anchor="end" fill="#3c3c3c" stroke="#3c3c3c" stroke-width="0.12">0.9</text>
<text x="29" y="240.19" font-size="6.35" text-anchor="end" fill="#3c3c3c" stroke="#3c3c3c" stroke-width="0.12">1</text>
<text x="241.5" y="422.6" font-size="6.35" text-anchor="end" fill="#262626">&#215;10<tspan font-size="4.44" dy="-3.17">4</tspan></text>
<text x="136.85" y="421.1" font-size="6.99" text-anchor="middle" fill="#262626">Frequency (Hz)</text>
<text transform="translate(16.5 319.75) rotate(-90)" font-size="6.99" text-anchor="middle" fill="#262626">Amplitude</text>
<text x="136.85" y="234.2" font-size="6.99" font-weight="bold" text-anchor="middle" fill="#262626">Goertzel left channels comparative. Test 3</text>
<rect x="182.6" y="242.5" width="54.2" height="17.7" fill="#fff" stroke="#262626" stroke-width="0.6"/>
<path d="M184.7 247.6H203.4" stroke="#d04848" stroke-width="0.8" stroke-opacity="0.75"/>
<text x="205.2" y="249.68" font-size="5.78" fill="#262626">Stego file</text>
<path d="M184.7 255.5H203.4" stroke="#4848b8" stroke-width="0.8" stroke-opacity="0.75"/>
<text x="205.2" y="257.58" font-size="5.78" fill="#262626">Original file</text>
<text x="132" y="437.6" font-size="11.5" font-weight="bold" text-anchor="middle" font-family="Liberation Serif, serif" fill="#111">(e)</text>
<g filter="url(#bl)">
<polyline fill="none" stroke-linejoin="round" stroke="#ff0000" stroke-width="0.7" stroke-opacity="1.0" points="330.4,400.54 330.85,401.79 331.39,402.61 331.67,401.56 332.22,401.06 332.63,402.16 333.15,402.19 333.49,401.78 334.07,400.55 334.46,401.24 334.97,401.01 335.35,398.44 335.79,401.07 336.3,401.61 336.79,401.47 337.13,402.37 337.68,400.33 338.13,402.23 338.44,400.74 338.97,401.16 339.44,400.89 339.93,399.98 340.33,401.35 340.68,401.83 341.2,402.44 341.65,397.2 342.1,401.2 342.63,399.54 342.97,400.5 343.4,400.49 343.9,401.77 344.38,397.81 344.88,402.12 345.26,400.96 345.66,402.17 346.23,401.89 346.6,400.42 347.08,402.26 347.5,400.56 347.9,400.71 348.43,402.16 348.9,400.76 349.24,401.27 349.74,400.83 350.18,401.75 350.59,401.58 351.05,402.36 351.63,395.59 352.07,401.4 352.43,401.59 352.94,402.4 353.27,392.35 353.87,400.89 354.26,402.34 354.76,402.45 355.11,399.76 355.58,402.05 356.02,392.91 356.59,398.14 356.94,402.01 357.4,400.63 357.93,389.92 358.37,398.8 358.73,389.78 359.17,402.04 359.71,398.95 360.03,398.2 360.53,398.81 361.07,401.41 361.53,397.89 361.85,399.32 362.27,394.15 362.85,402.02 363.27,400 363.65,402.06 364.15,401.83 364.52,399.43 365.09,398.99 365.5,399.6 365.99,400.36 366.33,398.59 366.88,393.2 367.28,402.26 367.75,399.05 368.17,398.72 368.67,399.65 369.11,400.46 369.57,388.34 369.92,402.3 370.4,388.17 370.82,399.97 371.33,399.74 371.8,399.38 372.18,391.28 372.73,401.06 373.15,401.29 373.6,401.67 374.07,389.91 374.58,398.5 374.97,386.28 375.33,399.27 375.79,392.23 376.33,400.59 376.72,398.71 377.25,400.24 377.65,400.63 378.08,398.85 378.59,394.38 378.94,401.93 379.41,400.61 379.86,398.38 380.33,397.86 380.87,401.41 381.31,390.24 381.76,401.95 382.17,399.4 382.51,401.87 383.01,398.67 383.5,398.84 384.02,401.92 384.38,400.06 384.86,392.4 385.36,397.88 385.72,393.39 386.24,401.12 386.67,397.92 387.1,399.51 387.57,398.44 388,401.12 388.38,398.71 388.97,398.03 389.43,396.25 389.86,399.8 390.22,401.52 390.72,399.18 391.2,399.63 391.52,399.03 392.1,399.96 392.43,399.51 393.03,400.18 393.35,398.81 393.93,382.43 394.25,401.71 394.76,377.77 395.26,400.27 395.74,397.42 396.14,395.43 396.61,368.37 396.98,394.03 397.5,398.37 397.88,397.08 398.43,375.9 398.85,396.87 399.23,390.47 399.75,391.05 400.07,377.12 400.68,389.93 401.08,369.83 401.47,390.38 401.98,366.15 402.45,392.12 402.87,394.94 403.37,386.91 403.73,352.17 404.17,384.96 404.63,384.21 405.06,387.84 405.55,358.02 406.05,390.24 406.52,382.1 406.92,384.45 407.4,395.19 407.88,398.44 408.28,398.22 408.63,382.35 409.17,391.51 409.51,384.8 410.08,385.48 410.59,378.93 410.95,387.89 411.48,379.27 411.76,375.83 412.38,379.37 412.69,388.18 413.26,379.59 413.61,351.67 414.08,377.45 414.48,328.92 414.92,378.13 415.5,365.99 415.94,376 416.28,372.12 416.82,375.19 417.21,315.41 417.77,378.5 418.08,312.48 418.62,385.58 419.12,383 419.51,371.24 419.98,353.69 420.46,375.89 420.89,390 421.36,392.63 421.7,391.68 422.27,375.86 422.65,353.18 423.17,384.16 423.59,357.89 424.04,385.09 424.53,376.5 424.83,358.93 425.42,362.83 425.76,374.56 426.31,379.52 426.65,360.29 427.14,341.7 427.54,372.22 428.1,312.71 428.46,376.77 428.95,366.17 429.45,371.6 429.83,353.46 430.37,367.82 430.75,340.14 431.28,380.72 431.7,354.44 432.19,361.84 432.59,364.75 432.97,362.42 433.83,362.42 434.21,364.75 434.61,361.84 435.1,354.44 435.52,380.72 436.04,340.14 436.43,367.82 436.97,353.46 437.34,371.6 437.85,366.17 438.33,376.77 438.69,312.71 439.26,372.22 439.65,341.7 440.15,360.29 440.49,379.52 441.03,374.56 441.38,362.83 441.97,358.93 442.26,376.5 442.75,385.09 443.21,357.89 443.62,384.16 444.15,353.18 444.52,375.86 445.1,391.68 445.44,392.63 445.91,390 446.34,375.89 446.82,353.69 447.29,371.24 447.68,383 448.18,385.58 448.71,312.48 449.02,378.5 449.59,315.41 449.97,375.19 450.51,372.12 450.85,376 451.3,365.99 451.88,378.13 452.31,328.92 452.72,377.45 453.18,351.67 453.53,379.59 454.11,388.18 454.41,379.37 455.03,375.83 455.32,379.27 455.85,387.89 456.21,378.93 456.71,385.48 457.28,384.8 457.62,391.51 458.17,382.35 458.52,398.22 458.91,398.44 459.39,395.19 459.87,384.45 460.28,382.1 460.75,390.24 461.25,358.02 461.74,387.84 462.17,384.21 462.63,384.96 463.06,352.17 463.43,386.91 463.92,394.94 464.34,392.12 464.82,366.15 465.33,390.38 465.71,369.83 466.12,389.93 466.72,377.12 467.04,391.05 467.57,390.47 467.95,396.87 468.37,375.9 468.92,397.08 469.3,398.37 469.82,394.03 470.19,368.37 470.66,395.43 471.06,397.42 471.54,400.27 472.04,377.77 472.54,401.71 472.86,382.43 473.44,398.81 473.77,400.18 474.37,399.51 474.69,399.96 475.27,399.03 475.6,399.63 476.07,399.18 476.57,401.52 476.94,399.8 477.36,396.25 477.82,398.03 478.42,398.71 478.8,401.12 479.22,398.44 479.69,399.51 480.13,397.92 480.55,401.12 481.07,393.39 481.43,397.88 481.94,392.4 482.42,400.06 482.77,401.92 483.3,398.84 483.78,398.67 484.28,401.87 484.62,399.4 485.04,401.95 485.49,390.24 485.92,401.41 486.46,397.86 486.93,398.38 487.38,400.61 487.85,401.93 488.2,394.38 488.72,398.85 489.14,400.63 489.55,400.24 490.08,398.71 490.46,400.59 491.01,392.23 491.47,399.27 491.83,386.28 492.22,398.5 492.73,389.91 493.2,401.67 493.65,401.29 494.07,401.06 494.62,391.28 495,399.38 495.47,399.74 495.97,399.97 496.4,388.17 496.87,402.3 497.22,388.34 497.68,400.46 498.12,399.65 498.63,398.72 499.05,399.05 499.52,402.26 499.92,393.2 500.47,398.59 500.81,400.36 501.29,399.6 501.71,398.99 502.27,399.43 502.64,401.83 503.14,402.06 503.52,400 503.94,402.02 504.52,394.15 504.94,399.32 505.27,397.89 505.73,401.41 506.27,398.81 506.77,398.2 507.09,398.95 507.63,402.04 508.06,389.78 508.42,398.8 508.86,389.92 509.4,400.63 509.86,402.01 510.21,398.14 510.77,392.91 511.22,402.05 511.69,399.76 512.04,402.45 512.54,402.34 512.92,400.89 513.53,392.35 513.85,402.4 514.37,401.59 514.73,401.4 515.16,395.59 515.75,402.36 516.21,401.58 516.62,401.75 517.05,400.83 517.55,401.27 517.9,400.76 518.36,402.16 518.9,400.71 519.3,400.56 519.71,402.26 520.2,400.42 520.57,401.89 521.14,402.17 521.53,400.96 521.92,402.12 522.42,397.81 522.89,401.77 523.4,400.49 523.82,400.5 524.16,399.54 524.7,401.2 525.15,397.2 525.6,402.44 526.11,401.83 526.47,401.35 526.87,399.98 527.36,400.89 527.83,401.16 528.35,400.74 528.67,402.23 529.11,400.33 529.67,402.37 530.01,401.47 530.49,401.61 531.01,401.07 531.45,398.44 531.82,401.01 532.34,401.24 532.73,400.55 533.3,401.78 533.64,402.19 534.17,402.16 534.58,401.06 535.12,401.56 535.41,402.61 535.94,401.79 536.4,400.54"/>
<polyline fill="none" stroke-linejoin="round" stroke="#0000ff" stroke-width="0.7" stroke-opacity="0.95" points="330.4,400.93 330.85,399.68 331.39,399.72 331.67,401.79 332.22,401.77 332.63,401.78 333.15,400.64 333.49,401.96 334.07,400.4 334.46,396.83 334.97,399.99 335.35,397 335.79,399.72 336.3,401.54 336.79,402.45 337.13,401.13 337.68,400.06 338.13,402.03 338.44,401.79 338.97,399.51 339.44,401.28 339.93,400.59 340.33,400.89 340.68,399.32 341.2,399.81 341.65,395.9 342.1,401.39 342.63,397.05 342.97,400.46 343.4,400.32 343.9,402.54 344.38,395.84 344.88,401.82 345.26,401.53 345.66,400.2 346.23,397.86 346.6,399.72 347.08,398.35 347.5,401.27 347.9,400.59 348.43,399.82 348.9,399.8 349.24,399.63 349.74,400.31 350.18,399.85 350.59,400.82 351.05,399.99 351.63,393.85 352.07,400.19 352.43,399.96 352.94,400.16 353.27,391.75 353.87,399.4 354.26,393.54 354.76,402.11 355.11,400.59 355.58,401.2 356.02,389.79 356.59,399.04 356.94,397.2 357.4,396.65 357.93,386.89 358.37,397.01 358.73,387.86 359.17,397.66 359.71,396.46 360.03,399.62 360.53,398.02 361.07,396.48 361.53,400.83 361.85,401.86 362.27,387.38 362.85,396.86 363.27,399.11 363.65,401.04 364.15,396.28 364.52,399.42 365.09,399.63 365.5,401.86 365.99,399.67 366.33,396.32 366.88,387.78 367.28,397.55 367.75,396.63 368.17,402.29 368.67,388.23 369.11,401.43 369.57,385.33 369.92,397.08 370.4,385.73 370.82,397.9 371.33,400.56 371.8,398.65 372.18,384.59 372.73,399 373.15,400.32 373.6,397.78 374.07,383.97 374.58,400.29 374.97,383.61 375.33,399.24 375.79,387.34 376.33,398.16 376.72,381.68 377.25,401.25 377.65,396.69 378.08,402.28 378.59,387.67 378.94,398.58 379.41,384.44 379.86,401.3 380.33,393.71 380.87,399.66 381.31,388.77 381.76,399.14 382.17,384.57 382.51,400.79 383.01,398.13 383.5,397.29 384.02,390.56 384.38,398.23 384.86,391.33 385.36,398.31 385.72,388.6 386.24,399.23 386.67,389.96 387.1,400.41 387.57,398.05 388,396.71 388.38,397.79 388.97,398.64 389.43,394.14 389.86,396.85 390.22,393.25 390.72,396.22 391.2,398.39 391.52,396.84 392.1,395.43 392.43,400.57 393.03,398.88 393.35,398.62 393.93,381.92 394.25,399.94 394.76,396.55 395.26,397.01 395.74,375.52 396.14,394 396.61,359.81 396.98,399.67 397.5,359.9 397.88,398.29 398.43,387.15 398.85,398.59 399.23,353.65 399.75,395.39 400.07,352.69 400.68,398.25 401.08,349.36 401.47,397.54 401.98,332.5 402,335.03 402.45,391.72 402.87,362.38 403.37,397.3 403.73,331.75 404.17,390.84 404.63,333.06 405,336.68 405.06,391.22 405.55,364.87 406.05,394.63 406.52,366.52 406.92,390.12 407.4,399.41 407.88,397.5 408,402.8 408.28,397.15 408.63,391.15 409.17,374.48 409.51,395.74 410.08,367.79 410.5,305.27 410.59,392.22 410.95,373.1 411.48,385.06 411.76,366.48 412.1,300.31 412.38,394.38 412.69,374.9 413.26,392.4 413.5,268.08 413.61,349.79 414.08,382.39 414.48,310.83 414.92,389.27 415.5,336.59 415.5,300.31 415.94,384.41 416.28,358.34 416.82,392.98 417.1,305.27 417.21,291.35 417.77,387.98 418.08,358.4 418.62,381.82 419.12,288.46 419.51,378.09 419.98,305.57 420,402.8 420.46,379.9 420.89,397.01 421.36,396.85 421.7,392.53 422.27,378.28 422.65,334.49 423.17,388.77 423.59,353.98 423.7,268.08 424.04,375.05 424.53,312.87 424.83,390.13 425.42,331.08 425.76,379.77 426.31,329.26 426.65,381.71 427.1,275.52 427.14,296.9 427.54,374.67 428,402.8 428.1,282.87 428.46,384.35 428.95,306.61 429.45,378.84 429.5,254.86 429.83,309.47 430.37,379.59 430.75,370.11 431.28,378.95 431.7,369.42 432.19,368.81 432.5,237.5 432.59,340.58 432.97,368.33 433.83,368.33 434.21,340.58 434.3,237.5 434.61,368.81 435.1,369.42 435.52,378.95 436.04,370.11 436.43,379.59 436.97,309.47 437.3,254.86 437.34,378.84 437.85,306.61 438.33,384.35 438.69,282.87 438.8,402.8 439.26,374.67 439.65,296.9 439.7,275.52 440.15,381.71 440.49,329.26 441.03,379.77 441.38,331.08 441.97,390.13 442.26,312.87 442.75,375.05 443.1,268.08 443.21,353.98 443.62,388.77 444.15,334.49 444.52,378.28 445.1,392.53 445.44,396.85 445.91,397.01 446.34,379.9 446.8,402.8 446.82,305.57 447.29,378.09 447.68,288.46 448.18,381.82 448.71,358.4 449.02,387.98 449.59,291.35 449.7,305.27 449.97,392.98 450.51,358.34 450.85,384.41 451.3,300.31 451.3,336.59 451.88,389.27 452.31,310.83 452.72,382.39 453.18,349.79 453.3,268.08 453.53,392.4 454.11,374.9 454.41,394.38 454.7,300.31 455.03,366.48 455.32,385.06 455.85,373.1 456.21,392.22 456.3,305.27 456.71,367.79 457.28,395.74 457.62,374.48 458.17,391.15 458.52,397.15 458.8,402.8 458.91,397.5 459.39,399.41 459.87,390.12 460.28,366.52 460.75,394.63 461.25,364.87 461.74,391.22 461.8,336.68 462.17,333.06 462.63,390.84 463.06,331.75 463.43,397.3 463.92,362.38 464.34,391.72 464.8,335.03 464.82,332.5 465.33,397.54 465.71,349.36 466.12,398.25 466.72,352.69 467.04,395.39 467.57,353.65 467.95,398.59 468.37,387.15 468.92,398.29 469.3,359.9 469.82,399.67 470.19,359.81 470.66,394 471.06,375.52 471.54,397.01 472.04,396.55 472.54,399.94 472.86,381.92 473.44,398.62 473.77,398.88 474.37,400.57 474.69,395.43 475.27,396.84 475.6,398.39 476.07,396.22 476.57,393.25 476.94,396.85 477.36,394.14 477.82,398.64 478.42,397.79 478.8,396.71 479.22,398.05 479.69,400.41 480.13,389.96 480.55,399.23 481.07,388.6 481.43,398.31 481.94,391.33 482.42,398.23 482.77,390.56 483.3,397.29 483.78,398.13 484.28,400.79 484.62,384.57 485.04,399.14 485.49,388.77 485.92,399.66 486.46,393.71 486.93,401.3 487.38,384.44 487.85,398.58 488.2,387.67 488.72,402.28 489.14,396.69 489.55,401.25 490.08,381.68 490.46,398.16 491.01,387.34 491.47,399.24 491.83,383.61 492.22,400.29 492.73,383.97 493.2,397.78 493.65,400.32 494.07,399 494.62,384.59 495,398.65 495.47,400.56 495.97,397.9 496.4,385.73 496.87,397.08 497.22,385.33 497.68,401.43 498.12,388.23 498.63,402.29 499.05,396.63 499.52,397.55 499.92,387.78 500.47,396.32 500.81,399.67 501.29,401.86 501.71,399.63 502.27,399.42 502.64,396.28 503.14,401.04 503.52,399.11 503.94,396.86 504.52,387.38 504.94,401.86 505.27,400.83 505.73,396.48 506.27,398.02 506.77,399.62 507.09,396.46 507.63,397.66 508.06,387.86 508.42,397.01 508.86,386.89 509.4,396.65 509.86,397.2 510.21,399.04 510.77,389.79 511.22,401.2 511.69,400.59 512.04,402.11 512.54,393.54 512.92,399.4 513.53,391.75 513.85,400.16 514.37,399.96 514.73,400.19 515.16,393.85 515.75,399.99 516.21,400.82 516.62,399.85 517.05,400.31 517.55,399.63 517.9,399.8 518.36,399.82 518.9,400.59 519.3,401.27 519.71,398.35 520.2,399.72 520.57,397.86 521.14,400.2 521.53,401.53 521.92,401.82 522.42,395.84 522.89,402.54 523.4,400.32 523.82,400.46 524.16,397.05 524.7,401.39 525.15,395.9 525.6,399.81 526.11,399.32 526.47,400.89 526.87,400.59 527.36,401.28 527.83,399.51 528.35,401.79 528.67,402.03 529.11,400.06 529.67,401.13 530.01,402.45 530.49,401.54 531.01,399.72 531.45,397 531.82,399.99 532.34,396.83 532.73,400.4 533.3,401.96 533.64,400.64 534.17,401.78 534.58,401.77 535.12,401.79 535.41,399.72 535.94,399.68 536.4,400.93"/>
<polyline fill="none" stroke-linejoin="round" stroke="#ff0000" stroke-width="0.5" stroke-opacity="0.2" points="330.4,400.54 330.85,401.79 331.39,402.61 331.67,401.56 332.22,401.06 332.63,402.16 333.15,402.19 333.49,401.78 334.07,400.55 334.46,401.24 334.97,401.01 335.35,398.44 335.79,401.07 336.3,401.61 336.79,401.47 337.13,402.37 337.68,400.33 338.13,402.23 338.44,400.74 338.97,401.16 339.44,400.89 339.93,399.98 340.33,401.35 340.68,401.83 341.2,402.44 341.65,397.2 342.1,401.2 342.63,399.54 342.97,400.5 343.4,400.49 343.9,401.77 344.38,397.81 344.88,402.12 345.26,400.96 345.66,402.17 346.23,401.89 346.6,400.42 347.08,402.26 347.5,400.56 347.9,400.71 348.43,402.16 348.9,400.76 349.24,401.27 349.74,400.83 350.18,401.75 350.59,401.58 351.05,402.36 351.63,395.59 352.07,401.4 352.43,401.59 352.94,402.4 353.27,392.35 353.87,400.89 354.26,402.34 354.76,402.45 355.11,399.76 355.58,402.05 356.02,392.91 356.59,398.14 356.94,402.01 357.4,400.63 357.93,389.92 358.37,398.8 358.73,389.78 359.17,402.04 359.71,398.95 360.03,398.2 360.53,398.81 361.07,401.41 361.53,397.89 361.85,399.32 362.27,394.15 362.85,402.02 363.27,400 363.65,402.06 364.15,401.83 364.52,399.43 365.09,398.99 365.5,399.6 365.99,400.36 366.33,398.59 366.88,393.2 367.28,402.26 367.75,399.05 368.17,398.72 368.67,399.65 369.11,400.46 369.57,388.34 369.92,402.3 370.4,388.17 370.82,399.97 371.33,399.74 371.8,399.38 372.18,391.28 372.73,401.06 373.15,401.29 373.6,401.67 374.07,389.91 374.58,398.5 374.97,386.28 375.33,399.27 375.79,392.23 376.33,400.59 376.72,398.71 377.25,400.24 377.65,400.63 378.08,398.85 378.59,394.38 378.94,401.93 379.41,400.61 379.86,398.38 380.33,397.86 380.87,401.41 381.31,390.24 381.76,401.95 382.17,399.4 382.51,401.87 383.01,398.67 383.5,398.84 384.02,401.92 384.38,400.06 384.86,392.4 385.36,397.88 385.72,393.39 386.24,401.12 386.67,397.92 387.1,399.51 387.57,398.44 388,401.12 388.38,398.71 388.97,398.03 389.43,396.25 389.86,399.8 390.22,401.52 390.72,399.18 391.2,399.63 391.52,399.03 392.1,399.96 392.43,399.51 393.03,400.18 393.35,398.81 393.93,382.43 394.25,401.71 394.76,377.77 395.26,400.27 395.74,397.42 396.14,395.43 396.61,368.37 396.98,394.03 397.5,398.37 397.88,397.08 398.43,375.9 398.85,396.87 399.23,390.47 399.75,391.05 400.07,377.12 400.68,389.93 401.08,369.83 401.47,390.38 401.98,366.15 402.45,392.12 402.87,394.94 403.37,386.91 403.73,352.17 404.17,384.96 404.63,384.21 405.06,387.84 405.55,358.02 406.05,390.24 406.52,382.1 406.92,384.45 407.4,395.19 407.88,398.44 408.28,398.22 408.63,382.35 409.17,391.51 409.51,384.8 410.08,385.48 410.59,378.93 410.95,387.89 411.48,379.27 411.76,375.83 412.38,379.37 412.69,388.18 413.26,379.59 413.61,351.67 414.08,377.45 414.48,328.92 414.92,378.13 415.5,365.99 415.94,376 416.28,372.12 416.82,375.19 417.21,315.41 417.77,378.5 418.08,312.48 418.62,385.58 419.12,383 419.51,371.24 419.98,353.69 420.46,375.89 420.89,390 421.36,392.63 421.7,391.68 422.27,375.86 422.65,353.18 423.17,384.16 423.59,357.89 424.04,385.09 424.53,376.5 424.83,358.93 425.42,362.83 425.76,374.56 426.31,379.52 426.65,360.29 427.14,341.7 427.54,372.22 428.1,312.71 428.46,376.77 428.95,366.17 429.45,371.6 429.83,353.46 430.37,367.82 430.75,340.14 431.28,380.72 431.7,354.44 432.19,361.84 432.59,364.75 432.97,362.42 433.83,362.42 434.21,364.75 434.61,361.84 435.1,354.44 435.52,380.72 436.04,340.14 436.43,367.82 436.97,353.46 437.34,371.6 437.85,366.17 438.33,376.77 438.69,312.71 439.26,372.22 439.65,341.7 440.15,360.29 440.49,379.52 441.03,374.56 441.38,362.83 441.97,358.93 442.26,376.5 442.75,385.09 443.21,357.89 443.62,384.16 444.15,353.18 444.52,375.86 445.1,391.68 445.44,392.63 445.91,390 446.34,375.89 446.82,353.69 447.29,371.24 447.68,383 448.18,385.58 448.71,312.48 449.02,378.5 449.59,315.41 449.97,375.19 450.51,372.12 450.85,376 451.3,365.99 451.88,378.13 452.31,328.92 452.72,377.45 453.18,351.67 453.53,379.59 454.11,388.18 454.41,379.37 455.03,375.83 455.32,379.27 455.85,387.89 456.21,378.93 456.71,385.48 457.28,384.8 457.62,391.51 458.17,382.35 458.52,398.22 458.91,398.44 459.39,395.19 459.87,384.45 460.28,382.1 460.75,390.24 461.25,358.02 461.74,387.84 462.17,384.21 462.63,384.96 463.06,352.17 463.43,386.91 463.92,394.94 464.34,392.12 464.82,366.15 465.33,390.38 465.71,369.83 466.12,389.93 466.72,377.12 467.04,391.05 467.57,390.47 467.95,396.87 468.37,375.9 468.92,397.08 469.3,398.37 469.82,394.03 470.19,368.37 470.66,395.43 471.06,397.42 471.54,400.27 472.04,377.77 472.54,401.71 472.86,382.43 473.44,398.81 473.77,400.18 474.37,399.51 474.69,399.96 475.27,399.03 475.6,399.63 476.07,399.18 476.57,401.52 476.94,399.8 477.36,396.25 477.82,398.03 478.42,398.71 478.8,401.12 479.22,398.44 479.69,399.51 480.13,397.92 480.55,401.12 481.07,393.39 481.43,397.88 481.94,392.4 482.42,400.06 482.77,401.92 483.3,398.84 483.78,398.67 484.28,401.87 484.62,399.4 485.04,401.95 485.49,390.24 485.92,401.41 486.46,397.86 486.93,398.38 487.38,400.61 487.85,401.93 488.2,394.38 488.72,398.85 489.14,400.63 489.55,400.24 490.08,398.71 490.46,400.59 491.01,392.23 491.47,399.27 491.83,386.28 492.22,398.5 492.73,389.91 493.2,401.67 493.65,401.29 494.07,401.06 494.62,391.28 495,399.38 495.47,399.74 495.97,399.97 496.4,388.17 496.87,402.3 497.22,388.34 497.68,400.46 498.12,399.65 498.63,398.72 499.05,399.05 499.52,402.26 499.92,393.2 500.47,398.59 500.81,400.36 501.29,399.6 501.71,398.99 502.27,399.43 502.64,401.83 503.14,402.06 503.52,400 503.94,402.02 504.52,394.15 504.94,399.32 505.27,397.89 505.73,401.41 506.27,398.81 506.77,398.2 507.09,398.95 507.63,402.04 508.06,389.78 508.42,398.8 508.86,389.92 509.4,400.63 509.86,402.01 510.21,398.14 510.77,392.91 511.22,402.05 511.69,399.76 512.04,402.45 512.54,402.34 512.92,400.89 513.53,392.35 513.85,402.4 514.37,401.59 514.73,401.4 515.16,395.59 515.75,402.36 516.21,401.58 516.62,401.75 517.05,400.83 517.55,401.27 517.9,400.76 518.36,402.16 518.9,400.71 519.3,400.56 519.71,402.26 520.2,400.42 520.57,401.89 521.14,402.17 521.53,400.96 521.92,402.12 522.42,397.81 522.89,401.77 523.4,400.49 523.82,400.5 524.16,399.54 524.7,401.2 525.15,397.2 525.6,402.44 526.11,401.83 526.47,401.35 526.87,399.98 527.36,400.89 527.83,401.16 528.35,400.74 528.67,402.23 529.11,400.33 529.67,402.37 530.01,401.47 530.49,401.61 531.01,401.07 531.45,398.44 531.82,401.01 532.34,401.24 532.73,400.55 533.3,401.78 533.64,402.19 534.17,402.16 534.58,401.06 535.12,401.56 535.41,402.61 535.94,401.79 536.4,400.54"/>
</g>
<rect x="330.4" y="237.5" width="210.2" height="165.3" fill="none" stroke="#262626" stroke-width="0.55"/>
<path d="M330.4 402.8v-2.0 M330.4 237.5v2.0 M353.76 402.8v-2.0 M353.76 237.5v2.0 M377.11 402.8v-2.0 M377.11 237.5v2.0 M400.47 402.8v-2.0 M400.47 237.5v2.0 M423.82 402.8v-2.0 M423.82 237.5v2.0 M447.18 402.8v-2.0 M447.18 237.5v2.0 M470.53 402.8v-2.0 M470.53 237.5v2.0 M493.89 402.8v-2.0 M493.89 237.5v2.0 M517.24 402.8v-2.0 M517.24 237.5v2.0 M540.6 402.8v-2.0 M540.6 237.5v2.0 M330.4 402.8h2.0 M540.6 402.8h-2.0 M330.4 386.27h2.0 M540.6 386.27h-2.0 M330.4 369.74h2.0 M540.6 369.74h-2.0 M330.4 353.21h2.0 M540.6 353.21h-2.0 M330.4 336.68h2.0 M540.6 336.68h-2.0 M330.4 320.15h2.0 M540.6 320.15h-2.0 M330.4 303.62h2.0 M540.6 303.62h-2.0 M330.4 287.09h2.0 M540.6 287.09h-2.0 M330.4 270.56h2.0 M540.6 270.56h-2.0 M330.4 254.03h2.0 M540.6 254.03h-2.0 M330.4 237.5h2.0 M540.6 237.5h-2.0" stroke="#262626" stroke-width="0.6" fill="none"/>
<text x="330.4" y="412.67" font-size="6.35" text-anchor="middle" fill="#3c3c3c" stroke="#3c3c3c" stroke-width="0.12">0</text>
<text x="353.76" y="412.67" font-size="6.35" text-anchor="middle" fill="#3c3c3c" stroke="#3c3c3c" stroke-width="0.12">0.5</text>
<text x="377.11" y="412.67" font-size="6.35" text-anchor="middle" fill="#3c3c3c" stroke="#3c3c3c" stroke-width="0.12">1</text>
<text x="400.47" y="412.67" font-size="6.35" text-anchor="middle" fill="#3c3c3c" stroke="#3c3c3c" stroke-width="0.12">1.5</text>
<text x="423.82" y="412.67" font-size="6.35" text-anchor="middle" fill="#3c3c3c" stroke="#3c3c3c" stroke-width="0.12">2</text>
<text x="447.18" y="412.67" font-size="6.35" text-anchor="middle" fill="#3c3c3c" stroke="#3c3c3c" stroke-width="0.12">2.5</text>
<text x="470.53" y="412.67" font-size="6.35" text-anchor="middle" fill="#3c3c3c" stroke="#3c3c3c" stroke-width="0.12">3</text>
<text x="493.89" y="412.67" font-size="6.35" text-anchor="middle" fill="#3c3c3c" stroke="#3c3c3c" stroke-width="0.12">3.5</text>
<text x="517.24" y="412.67" font-size="6.35" text-anchor="middle" fill="#3c3c3c" stroke="#3c3c3c" stroke-width="0.12">4</text>
<text x="540.6" y="412.67" font-size="6.35" text-anchor="middle" fill="#3c3c3c" stroke="#3c3c3c" stroke-width="0.12">4.5</text>
<text x="327.2" y="405.59" font-size="6.35" text-anchor="end" fill="#3c3c3c" stroke="#3c3c3c" stroke-width="0.12">0</text>
<text x="327.2" y="389.06" font-size="6.35" text-anchor="end" fill="#3c3c3c" stroke="#3c3c3c" stroke-width="0.12">0.1</text>
<text x="327.2" y="372.53" font-size="6.35" text-anchor="end" fill="#3c3c3c" stroke="#3c3c3c" stroke-width="0.12">0.2</text>
<text x="327.2" y="356" font-size="6.35" text-anchor="end" fill="#3c3c3c" stroke="#3c3c3c" stroke-width="0.12">0.3</text>
<text x="327.2" y="339.47" font-size="6.35" text-anchor="end" fill="#3c3c3c" stroke="#3c3c3c" stroke-width="0.12">0.4</text>
<text x="327.2" y="322.94" font-size="6.35" text-anchor="end" fill="#3c3c3c" stroke="#3c3c3c" stroke-width="0.12">0.5</text>
<text x="327.2" y="306.41" font-size="6.35" text-anchor="end" fill="#3c3c3c" stroke="#3c3c3c" stroke-width="0.12">0.6</text>
<text x="327.2" y="289.88" font-size="6.35" text-anchor="end" fill="#3c3c3c" stroke="#3c3c3c" stroke-width="0.12">0.7</text>
<text x="327.2" y="273.35" font-size="6.35" text-anchor="end" fill="#3c3c3c" stroke="#3c3c3c" stroke-width="0.12">0.8</text>
<text x="327.2" y="256.82" font-size="6.35" text-anchor="end" fill="#3c3c3c" stroke="#3c3c3c" stroke-width="0.12">0.9</text>
<text x="327.2" y="240.29" font-size="6.35" text-anchor="end" fill="#3c3c3c" stroke="#3c3c3c" stroke-width="0.12">1</text>
<text x="540.6" y="423.3" font-size="6.35" text-anchor="end" fill="#262626">&#215;10<tspan font-size="4.44" dy="-3.17">4</tspan></text>
<text x="435.5" y="421.8" font-size="6.99" text-anchor="middle" fill="#262626">Frequency (Hz)</text>
<text transform="translate(315.1 320.15) rotate(-90)" font-size="6.99" text-anchor="middle" fill="#262626">Amplitude</text>
<text x="435.5" y="234.3" font-size="6.99" font-weight="bold" text-anchor="middle" fill="#262626">Goertzel right channels comparative. Test 3</text>
<rect x="481.6" y="242.5" width="54.2" height="17.7" fill="#fff" stroke="#262626" stroke-width="0.6"/>
<path d="M483.6 247.3H502.7" stroke="#d04848" stroke-width="0.8" stroke-opacity="0.75"/>
<text x="504.4" y="249.38" font-size="5.78" fill="#262626">Stego file</text>
<path d="M483.6 255.5H502.7" stroke="#4848b8" stroke-width="0.8" stroke-opacity="0.75"/>
<text x="504.4" y="257.58" font-size="5.78" fill="#262626">Original file</text>
<text x="415.7" y="437.6" font-size="11.5" font-weight="bold" text-anchor="middle" font-family="Liberation Serif, serif" fill="#111">(f)</text>
</svg>
</body></html>
